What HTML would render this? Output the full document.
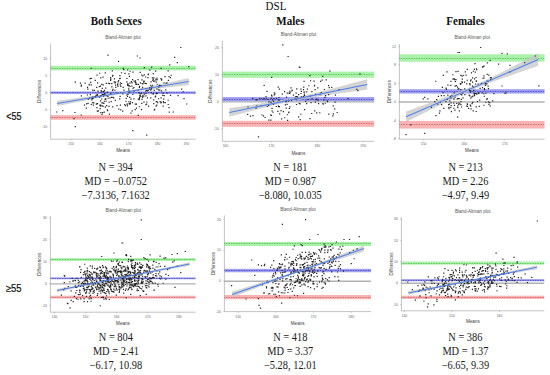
<!DOCTYPE html>
<html><head><meta charset="utf-8"><style>
html,body{margin:0;padding:0;background:#fff;width:550px;height:375px;overflow:hidden}
svg{display:block}
.h0{font-family:"Liberation Serif",serif;font-size:11.6px;fill:#111}
.h1{font-family:"Liberation Serif",serif;font-size:11.5px;font-weight:bold;fill:#111}
.st{font-family:"Liberation Serif",serif;font-size:11.5px;fill:#1a1a1a}
.rl{font-family:"Liberation Sans",sans-serif;font-size:10.6px;fill:#111;stroke:#111;stroke-width:0.22px}
.tk{font-family:"Liberation Sans",sans-serif;font-size:3.4px;fill:#666}
.tt{font-family:"Liberation Sans",sans-serif;font-size:4.5px;fill:#555}
.al{font-family:"Liberation Sans",sans-serif;font-size:4.6px;fill:#3a3a3a}
</style></head><body>
<svg width="550" height="375" viewBox="0 0 550 375">
<text x="276" y="10.4" class="h0" text-anchor="middle" textLength="20.78" lengthAdjust="spacingAndGlyphs">DSL</text>
<text x="116.2" y="24.6" class="h1" text-anchor="middle" textLength="51.03" lengthAdjust="spacingAndGlyphs">Both Sexes</text>
<text x="290.4" y="24.6" class="h1" text-anchor="middle" textLength="28.1" lengthAdjust="spacingAndGlyphs">Males</text>
<text x="465.6" y="24.6" class="h1" text-anchor="middle" textLength="38.48" lengthAdjust="spacingAndGlyphs">Females</text>
<text x="6.2" y="119.6" class="rl" textLength="15.2" lengthAdjust="spacingAndGlyphs">&lt;55</text>
<text x="5.9" y="291.7" class="rl" textLength="15.6" lengthAdjust="spacingAndGlyphs">≥55</text>
<rect x="50.6" y="65.77" width="145.2" height="4.6" fill="#aaf2aa"/>
<line x1="50.6" y1="68.5" x2="195.8" y2="68.5" stroke="#48b448" stroke-width="0.9" stroke-dasharray="0.8 0.85"/>
<rect x="50.6" y="115.14" width="145.2" height="4.6" fill="#f8b4b4"/>
<line x1="50.6" y1="117.5" x2="195.8" y2="117.5" stroke="#c85454" stroke-width="0.9" stroke-dasharray="0.8 0.85"/>
<rect x="50.6" y="91.46" width="145.2" height="2.6" fill="#a0a0f0"/>
<line x1="50.6" y1="92.5" x2="195.8" y2="92.5" stroke="#4242c6" stroke-width="1" stroke-dasharray="0.8 0.85"/>
<polygon points="57.1,100.7 62.59,99.98 68.08,99.27 73.56,98.54 79.05,97.82 84.54,97.09 90.03,96.35 95.51,95.6 101,94.83 106.49,94.04 111.98,93.23 117.46,92.39 122.95,91.5 128.44,90.56 133.93,89.55 139.41,88.49 144.9,87.39 150.39,86.28 155.88,85.14 161.36,84 166.85,82.85 172.34,81.69 177.83,80.53 183.31,79.37 188.8,78.2 188.8,85 183.31,85.65 177.83,86.3 172.34,86.96 166.85,87.62 161.36,88.28 155.88,88.96 150.39,89.64 144.9,90.34 139.41,91.06 133.93,91.82 128.44,92.63 122.95,93.5 117.46,94.43 111.98,95.4 106.49,96.41 101,97.44 95.51,98.49 90.03,99.55 84.54,100.63 79.05,101.71 73.56,102.81 68.08,103.9 62.59,105 57.1,106.1" fill="#c8c8c8" fill-opacity="0.78"/>
<path d="M107.4 54.6h1.2v1.2h-1.2zM117.9 60.7h1.2v1.2h-1.2zM73.4 118.1h1.2v1.2h-1.2zM74.7 126.1h1.2v1.2h-1.2zM56.1 111.4h1.2v1.2h-1.2zM62.2 110.1h1.2v1.2h-1.2zM180.2 46.9h1.2v1.2h-1.2zM174.1 56.7h1.2v1.2h-1.2zM176.7 62.1h1.2v1.2h-1.2zM136.7 55.4h1.2v1.2h-1.2zM139.4 57.4h1.2v1.2h-1.2zM188.2 66.1h1.2v1.2h-1.2zM183.4 98.1h1.2v1.2h-1.2zM186.1 103.4h1.2v1.2h-1.2zM172.7 111.4h1.2v1.2h-1.2zM132.2 130.1h1.2v1.2h-1.2zM146.1 134.6h1.2v1.2h-1.2zM96.98 94.5h1.2v1.2h-1.2zM89.34 97.34h1.2v1.2h-1.2zM83.93 104.55h1.2v1.2h-1.2zM143.19 95.52h1.2v1.2h-1.2zM182.63 91.17h1.2v1.2h-1.2zM91.86 98.06h1.2v1.2h-1.2zM131.9 102.04h1.2v1.2h-1.2zM100.08 104.62h1.2v1.2h-1.2zM119.08 78.03h1.2v1.2h-1.2zM120.23 85.81h1.2v1.2h-1.2zM168.39 75.94h1.2v1.2h-1.2zM133.36 80.39h1.2v1.2h-1.2zM152.22 79.79h1.2v1.2h-1.2zM129.9 101.22h1.2v1.2h-1.2zM88.65 84.37h1.2v1.2h-1.2zM102.43 105.78h1.2v1.2h-1.2zM101.14 83.76h1.2v1.2h-1.2zM96.92 102.95h1.2v1.2h-1.2zM137.78 83.68h1.2v1.2h-1.2zM111.68 70.24h1.2v1.2h-1.2zM100.77 91.28h1.2v1.2h-1.2zM113.15 97.19h1.2v1.2h-1.2zM159.29 89.61h1.2v1.2h-1.2zM98.71 85.95h1.2v1.2h-1.2zM115.25 86.85h1.2v1.2h-1.2zM92.55 97.63h1.2v1.2h-1.2zM87.91 98.13h1.2v1.2h-1.2zM153.12 99.31h1.2v1.2h-1.2zM123.21 69.11h1.2v1.2h-1.2zM126.95 95.9h1.2v1.2h-1.2zM152.64 73.07h1.2v1.2h-1.2zM96.65 93.67h1.2v1.2h-1.2zM157.15 102.17h1.2v1.2h-1.2zM100.55 89.9h1.2v1.2h-1.2zM110.29 92.98h1.2v1.2h-1.2zM150.89 91.99h1.2v1.2h-1.2zM93.23 102.25h1.2v1.2h-1.2zM149.29 69.53h1.2v1.2h-1.2zM114.69 99.68h1.2v1.2h-1.2zM93.73 89.7h1.2v1.2h-1.2zM138.8 86.82h1.2v1.2h-1.2zM137.77 98.59h1.2v1.2h-1.2zM143.71 67.07h1.2v1.2h-1.2zM126.87 105.19h1.2v1.2h-1.2zM106.94 110.01h1.2v1.2h-1.2zM161.04 90.27h1.2v1.2h-1.2zM95.67 94.71h1.2v1.2h-1.2zM74.71 81.6h1.2v1.2h-1.2zM105.15 87.46h1.2v1.2h-1.2zM128.12 89.34h1.2v1.2h-1.2zM137.5 79.01h1.2v1.2h-1.2zM127.35 93.73h1.2v1.2h-1.2zM87.73 98.67h1.2v1.2h-1.2zM127.21 84.92h1.2v1.2h-1.2zM90.7 103.74h1.2v1.2h-1.2zM117.54 81.22h1.2v1.2h-1.2zM127.96 85.12h1.2v1.2h-1.2zM114.98 84.44h1.2v1.2h-1.2zM160.52 67.76h1.2v1.2h-1.2zM101.69 105.16h1.2v1.2h-1.2zM87.24 88.46h1.2v1.2h-1.2zM141.35 79.31h1.2v1.2h-1.2zM141.6 82.99h1.2v1.2h-1.2zM166.43 92.62h1.2v1.2h-1.2zM114.88 81.46h1.2v1.2h-1.2zM129.2 96.83h1.2v1.2h-1.2zM142.27 75.32h1.2v1.2h-1.2zM146 103.43h1.2v1.2h-1.2zM111.9 75.56h1.2v1.2h-1.2zM114.46 82.31h1.2v1.2h-1.2zM101.65 94.05h1.2v1.2h-1.2zM153.78 109.31h1.2v1.2h-1.2zM95.74 103.62h1.2v1.2h-1.2zM159.39 85.41h1.2v1.2h-1.2zM95.99 103.37h1.2v1.2h-1.2zM110.78 96.73h1.2v1.2h-1.2zM118.17 108.54h1.2v1.2h-1.2zM132.41 71.61h1.2v1.2h-1.2zM145.07 76.39h1.2v1.2h-1.2zM120.23 109.22h1.2v1.2h-1.2zM138.46 99.15h1.2v1.2h-1.2zM105.17 98.78h1.2v1.2h-1.2zM99.35 95.82h1.2v1.2h-1.2zM103.82 100.64h1.2v1.2h-1.2zM122.2 93.25h1.2v1.2h-1.2zM160.84 101.65h1.2v1.2h-1.2zM120.07 92.11h1.2v1.2h-1.2zM112.18 106.18h1.2v1.2h-1.2zM111.26 86.18h1.2v1.2h-1.2zM135.91 103.45h1.2v1.2h-1.2zM169.79 77.07h1.2v1.2h-1.2zM158.79 84.63h1.2v1.2h-1.2zM90.62 84.26h1.2v1.2h-1.2zM141.28 88.78h1.2v1.2h-1.2zM107.57 97.65h1.2v1.2h-1.2zM144.98 87.89h1.2v1.2h-1.2zM135.39 82.2h1.2v1.2h-1.2zM127.58 84.84h1.2v1.2h-1.2zM91.33 97.76h1.2v1.2h-1.2zM157.97 89.32h1.2v1.2h-1.2zM140.95 109h1.2v1.2h-1.2zM106.24 94.94h1.2v1.2h-1.2zM90.13 81.82h1.2v1.2h-1.2zM102.97 95.44h1.2v1.2h-1.2zM129.12 103.66h1.2v1.2h-1.2zM106.69 91.69h1.2v1.2h-1.2zM130.78 81.02h1.2v1.2h-1.2zM155.37 78.53h1.2v1.2h-1.2zM95.01 96.07h1.2v1.2h-1.2zM94.69 79.72h1.2v1.2h-1.2zM147.35 77.1h1.2v1.2h-1.2zM156.37 88.43h1.2v1.2h-1.2zM105.02 98.27h1.2v1.2h-1.2zM98.93 96.44h1.2v1.2h-1.2zM128.2 87.63h1.2v1.2h-1.2zM127.42 83.42h1.2v1.2h-1.2zM165.46 82.64h1.2v1.2h-1.2zM135.17 83.67h1.2v1.2h-1.2zM92.91 96.67h1.2v1.2h-1.2zM108.84 113.52h1.2v1.2h-1.2zM104.77 106.52h1.2v1.2h-1.2zM108.41 105.73h1.2v1.2h-1.2zM159.58 101.02h1.2v1.2h-1.2zM92.15 102.04h1.2v1.2h-1.2zM138.73 98.3h1.2v1.2h-1.2zM124.11 103.97h1.2v1.2h-1.2zM167.77 79.73h1.2v1.2h-1.2zM102.87 93.89h1.2v1.2h-1.2zM168.69 111.43h1.2v1.2h-1.2zM147.7 89.79h1.2v1.2h-1.2zM127 83.15h1.2v1.2h-1.2zM128.23 101.14h1.2v1.2h-1.2zM148.96 87.12h1.2v1.2h-1.2zM121.01 82.91h1.2v1.2h-1.2zM156.21 104.61h1.2v1.2h-1.2zM135.84 107.49h1.2v1.2h-1.2zM129.38 85.89h1.2v1.2h-1.2zM96.11 86.74h1.2v1.2h-1.2zM124.4 72.8h1.2v1.2h-1.2zM117.39 85.81h1.2v1.2h-1.2zM100.21 112.11h1.2v1.2h-1.2zM105.45 100.63h1.2v1.2h-1.2zM140.98 74.39h1.2v1.2h-1.2zM151.77 77.34h1.2v1.2h-1.2zM158.02 98.13h1.2v1.2h-1.2zM142.11 94.64h1.2v1.2h-1.2zM164.67 102.04h1.2v1.2h-1.2zM164.44 76.03h1.2v1.2h-1.2zM119.29 74.94h1.2v1.2h-1.2zM85.99 103.34h1.2v1.2h-1.2zM104.41 98.65h1.2v1.2h-1.2zM181.09 88.62h1.2v1.2h-1.2zM154.09 108.74h1.2v1.2h-1.2zM119.16 98.34h1.2v1.2h-1.2zM79.82 82.49h1.2v1.2h-1.2zM101.06 98.42h1.2v1.2h-1.2zM155.07 70.43h1.2v1.2h-1.2zM106.06 104.93h1.2v1.2h-1.2zM153.25 77.24h1.2v1.2h-1.2zM90.6 77.7h1.2v1.2h-1.2zM100.15 77.24h1.2v1.2h-1.2zM149.13 88.5h1.2v1.2h-1.2zM109.99 79.71h1.2v1.2h-1.2zM102.05 112.05h1.2v1.2h-1.2zM122.71 67.87h1.2v1.2h-1.2zM126.97 103.51h1.2v1.2h-1.2zM138.58 92.31h1.2v1.2h-1.2zM139.59 93.43h1.2v1.2h-1.2zM150.91 88.23h1.2v1.2h-1.2zM102.19 102.35h1.2v1.2h-1.2zM129.47 70.63h1.2v1.2h-1.2zM107.68 82.63h1.2v1.2h-1.2zM128.58 85.02h1.2v1.2h-1.2zM112.33 74.84h1.2v1.2h-1.2zM151.98 84.66h1.2v1.2h-1.2zM150.51 86.87h1.2v1.2h-1.2zM101.42 102.22h1.2v1.2h-1.2zM131.56 110.28h1.2v1.2h-1.2zM142.04 96.82h1.2v1.2h-1.2zM132.2 93.9h1.2v1.2h-1.2zM139.86 82.32h1.2v1.2h-1.2zM103.73 89.85h1.2v1.2h-1.2zM104.67 72.25h1.2v1.2h-1.2zM101.42 113.73h1.2v1.2h-1.2zM80.74 95.22h1.2v1.2h-1.2zM123.36 89.51h1.2v1.2h-1.2zM165.21 89.24h1.2v1.2h-1.2zM96.44 74.6h1.2v1.2h-1.2zM130.27 112.51h1.2v1.2h-1.2zM167.57 103.91h1.2v1.2h-1.2zM80.57 85.5h1.2v1.2h-1.2zM99.95 100.37h1.2v1.2h-1.2zM153.66 89.75h1.2v1.2h-1.2zM119.82 82.24h1.2v1.2h-1.2zM80.63 114.41h1.2v1.2h-1.2zM89.76 93.93h1.2v1.2h-1.2zM114.34 89.64h1.2v1.2h-1.2zM128.97 90.87h1.2v1.2h-1.2zM148.01 105.43h1.2v1.2h-1.2zM99.05 104.66h1.2v1.2h-1.2zM134.67 103.54h1.2v1.2h-1.2zM146.01 89.83h1.2v1.2h-1.2zM169.1 64.24h1.2v1.2h-1.2zM156.53 77.41h1.2v1.2h-1.2zM143.05 81.64h1.2v1.2h-1.2zM152.64 78.87h1.2v1.2h-1.2zM155.69 93.08h1.2v1.2h-1.2zM160.36 85.01h1.2v1.2h-1.2zM90.67 77.63h1.2v1.2h-1.2zM162.19 94.73h1.2v1.2h-1.2zM129.29 82.56h1.2v1.2h-1.2zM170.59 74.67h1.2v1.2h-1.2zM147.89 73.58h1.2v1.2h-1.2zM143.54 80.8h1.2v1.2h-1.2zM151.08 66.56h1.2v1.2h-1.2zM138.77 106.17h1.2v1.2h-1.2zM128.84 75.74h1.2v1.2h-1.2zM103.64 111.45h1.2v1.2h-1.2zM92.2 89.44h1.2v1.2h-1.2zM97.86 110.23h1.2v1.2h-1.2zM128.76 102.7h1.2v1.2h-1.2zM156.52 101.35h1.2v1.2h-1.2zM132.48 87.7h1.2v1.2h-1.2zM160.11 78.15h1.2v1.2h-1.2zM124.91 105.02h1.2v1.2h-1.2zM74.31 111.9h1.2v1.2h-1.2zM126.26 81.25h1.2v1.2h-1.2zM110.28 78.51h1.2v1.2h-1.2zM154.1 80.42h1.2v1.2h-1.2zM141.15 102.83h1.2v1.2h-1.2zM84.51 82.47h1.2v1.2h-1.2zM141.97 86.81h1.2v1.2h-1.2zM126.99 69.41h1.2v1.2h-1.2zM160.49 97.21h1.2v1.2h-1.2zM161.04 79.47h1.2v1.2h-1.2zM112.08 89.81h1.2v1.2h-1.2zM153.06 80.86h1.2v1.2h-1.2zM119.78 104.49h1.2v1.2h-1.2zM146.83 97.33h1.2v1.2h-1.2zM99.57 108.06h1.2v1.2h-1.2zM86.76 94.42h1.2v1.2h-1.2zM86.94 86.68h1.2v1.2h-1.2zM167.54 70.18h1.2v1.2h-1.2zM143.38 101.46h1.2v1.2h-1.2zM156.58 83.63h1.2v1.2h-1.2zM111.22 83.07h1.2v1.2h-1.2zM110.56 100.96h1.2v1.2h-1.2zM139.61 71.75h1.2v1.2h-1.2zM152.71 92.97h1.2v1.2h-1.2zM142.42 83.21h1.2v1.2h-1.2zM163.6 95.06h1.2v1.2h-1.2zM126.33 94.55h1.2v1.2h-1.2zM151.3 86.14h1.2v1.2h-1.2zM138.96 85.82h1.2v1.2h-1.2zM145.44 92.92h1.2v1.2h-1.2zM108.57 101.65h1.2v1.2h-1.2zM89.56 77.99h1.2v1.2h-1.2zM119.51 95.76h1.2v1.2h-1.2zM146.25 101.4h1.2v1.2h-1.2zM103.33 90.94h1.2v1.2h-1.2zM122.2 110.55h1.2v1.2h-1.2zM156.73 92.77h1.2v1.2h-1.2zM155.05 95.51h1.2v1.2h-1.2zM130.42 98.53h1.2v1.2h-1.2zM126.32 77.92h1.2v1.2h-1.2zM126.97 84.44h1.2v1.2h-1.2zM100.11 105.66h1.2v1.2h-1.2zM80.82 84.55h1.2v1.2h-1.2zM133.32 86.92h1.2v1.2h-1.2zM150.14 89.53h1.2v1.2h-1.2zM120.93 72.15h1.2v1.2h-1.2zM147 90.29h1.2v1.2h-1.2zM109.32 97.4h1.2v1.2h-1.2zM139.82 95.48h1.2v1.2h-1.2zM128.29 73.22h1.2v1.2h-1.2zM139.18 95.16h1.2v1.2h-1.2zM163.13 98.55h1.2v1.2h-1.2zM158.19 86.46h1.2v1.2h-1.2zM134.95 80.13h1.2v1.2h-1.2zM122.59 86.68h1.2v1.2h-1.2zM158.69 84.74h1.2v1.2h-1.2zM107.31 95.73h1.2v1.2h-1.2zM138.94 97.11h1.2v1.2h-1.2zM156.79 79.13h1.2v1.2h-1.2zM109.99 77.01h1.2v1.2h-1.2zM119.68 77.65h1.2v1.2h-1.2zM141.37 98.78h1.2v1.2h-1.2zM137.47 89.65h1.2v1.2h-1.2zM104.38 93.79h1.2v1.2h-1.2zM85.73 107.59h1.2v1.2h-1.2zM116.93 84.34h1.2v1.2h-1.2zM161.1 78.51h1.2v1.2h-1.2zM131.46 82.27h1.2v1.2h-1.2zM101.67 87.79h1.2v1.2h-1.2zM97 82.37h1.2v1.2h-1.2zM106.84 109.2h1.2v1.2h-1.2zM136.19 83.78h1.2v1.2h-1.2zM155.65 81.49h1.2v1.2h-1.2zM126.5 103.46h1.2v1.2h-1.2zM95.38 95.53h1.2v1.2h-1.2zM118.08 79.97h1.2v1.2h-1.2zM145.67 83.12h1.2v1.2h-1.2zM103.25 102.73h1.2v1.2h-1.2zM144.5 82.69h1.2v1.2h-1.2zM88.65 83.75h1.2v1.2h-1.2zM166.39 82.24h1.2v1.2h-1.2zM150.23 84.86h1.2v1.2h-1.2zM97.49 90.6h1.2v1.2h-1.2zM112.28 96.78h1.2v1.2h-1.2zM134.74 81.94h1.2v1.2h-1.2zM109.12 83.01h1.2v1.2h-1.2zM87.46 102.74h1.2v1.2h-1.2zM113.87 78.3h1.2v1.2h-1.2zM141.52 95.89h1.2v1.2h-1.2zM133.42 90.47h1.2v1.2h-1.2zM129.74 102.97h1.2v1.2h-1.2zM91.23 99.24h1.2v1.2h-1.2zM153.18 103.01h1.2v1.2h-1.2zM117.2 83.37h1.2v1.2h-1.2zM163.21 102.07h1.2v1.2h-1.2zM139.03 96.85h1.2v1.2h-1.2zM105.63 82.85h1.2v1.2h-1.2zM125.64 97.71h1.2v1.2h-1.2zM96.31 107.09h1.2v1.2h-1.2zM177.54 94.94h1.2v1.2h-1.2zM143.77 93.52h1.2v1.2h-1.2zM145.07 90.61h1.2v1.2h-1.2zM134.51 80.93h1.2v1.2h-1.2zM162.54 105.56h1.2v1.2h-1.2zM155.44 79.34h1.2v1.2h-1.2zM152.51 93.65h1.2v1.2h-1.2zM119.66 84.34h1.2v1.2h-1.2zM133.3 98.27h1.2v1.2h-1.2zM162.79 101.01h1.2v1.2h-1.2zM160.35 102.24h1.2v1.2h-1.2zM167.57 99.67h1.2v1.2h-1.2zM150.43 81.28h1.2v1.2h-1.2zM150.22 97.31h1.2v1.2h-1.2zM137.65 114.71h1.2v1.2h-1.2zM155.67 100.97h1.2v1.2h-1.2zM145.17 104.16h1.2v1.2h-1.2zM131.32 85.5h1.2v1.2h-1.2zM132.04 79.05h1.2v1.2h-1.2zM102.42 76.49h1.2v1.2h-1.2zM96.73 110.6h1.2v1.2h-1.2zM162.63 92.71h1.2v1.2h-1.2zM102.61 84.34h1.2v1.2h-1.2zM125.36 100.63h1.2v1.2h-1.2zM163.4 82.26h1.2v1.2h-1.2zM94.37 96.24h1.2v1.2h-1.2zM100.53 95h1.2v1.2h-1.2zM108.17 82.67h1.2v1.2h-1.2zM155.49 105.53h1.2v1.2h-1.2zM102.27 91.17h1.2v1.2h-1.2zM134.58 108.93h1.2v1.2h-1.2zM128.44 92.07h1.2v1.2h-1.2zM145.33 95.35h1.2v1.2h-1.2zM116.41 104.97h1.2v1.2h-1.2zM99.17 72.66h1.2v1.2h-1.2zM92.12 96.56h1.2v1.2h-1.2zM143.23 80.57h1.2v1.2h-1.2zM117.34 92.7h1.2v1.2h-1.2zM92.7 104.48h1.2v1.2h-1.2zM99.92 85.54h1.2v1.2h-1.2zM143.67 74.36h1.2v1.2h-1.2zM168.39 107.01h1.2v1.2h-1.2zM104 92.99h1.2v1.2h-1.2zM116.16 92.74h1.2v1.2h-1.2zM112.43 88.65h1.2v1.2h-1.2zM154.69 96.27h1.2v1.2h-1.2zM151.07 87.39h1.2v1.2h-1.2zM169.91 94.72h1.2v1.2h-1.2zM140.85 92.72h1.2v1.2h-1.2zM90.67 67.66h1.2v1.2h-1.2zM147.57 74.1h1.2v1.2h-1.2zM139.56 95.11h1.2v1.2h-1.2zM113.57 81.27h1.2v1.2h-1.2z" fill="#222"/>
<line x1="57.1" y1="103.4" x2="188.8" y2="81.6" stroke="#5080ea" stroke-width="1.05"/>
<path d="M50.6 43.5V139.2H195.8" fill="none" stroke="#9a9a9a" stroke-width="0.6"/>
<line x1="49.4" y1="58.4" x2="50.6" y2="58.4" stroke="#9a9a9a" stroke-width="0.5"/>
<text x="47.1" y="59.7" class="tk" text-anchor="end">10</text>
<line x1="49.4" y1="75.45" x2="50.6" y2="75.45" stroke="#9a9a9a" stroke-width="0.5"/>
<text x="47.1" y="76.75" class="tk" text-anchor="end">5</text>
<line x1="49.4" y1="92.5" x2="50.6" y2="92.5" stroke="#9a9a9a" stroke-width="0.5"/>
<text x="47.1" y="93.8" class="tk" text-anchor="end">0</text>
<line x1="49.4" y1="109.55" x2="50.6" y2="109.55" stroke="#9a9a9a" stroke-width="0.5"/>
<text x="47.1" y="110.85" class="tk" text-anchor="end">-5</text>
<line x1="49.4" y1="126.6" x2="50.6" y2="126.6" stroke="#9a9a9a" stroke-width="0.5"/>
<text x="47.1" y="127.9" class="tk" text-anchor="end">-10</text>
<line x1="71.1" y1="139.2" x2="71.1" y2="140.4" stroke="#9a9a9a" stroke-width="0.5"/>
<text x="71.1" y="145.3" class="tk" text-anchor="middle">150</text>
<line x1="99.9" y1="139.2" x2="99.9" y2="140.4" stroke="#9a9a9a" stroke-width="0.5"/>
<text x="99.9" y="145.3" class="tk" text-anchor="middle">160</text>
<line x1="128.7" y1="139.2" x2="128.7" y2="140.4" stroke="#9a9a9a" stroke-width="0.5"/>
<text x="128.7" y="145.3" class="tk" text-anchor="middle">170</text>
<line x1="157.5" y1="139.2" x2="157.5" y2="140.4" stroke="#9a9a9a" stroke-width="0.5"/>
<text x="157.5" y="145.3" class="tk" text-anchor="middle">180</text>
<line x1="186.3" y1="139.2" x2="186.3" y2="140.4" stroke="#9a9a9a" stroke-width="0.5"/>
<text x="186.3" y="145.3" class="tk" text-anchor="middle">190</text>
<text x="123" y="39" class="tt" text-anchor="middle">Bland-Altman plot</text>
<text x="123.2" y="152" class="al" text-anchor="middle">Means</text>
<text transform="translate(40.7 91.35) rotate(-90)" class="al" text-anchor="middle">Differences</text>
<rect x="222.4" y="71.61" width="151.8" height="6.2" fill="#aaf2aa"/>
<line x1="222.4" y1="74.5" x2="374.2" y2="74.5" stroke="#48b448" stroke-width="0.9" stroke-dasharray="0.8 0.85"/>
<rect x="222.4" y="120.8" width="151.8" height="6" fill="#f8b4b4"/>
<line x1="222.4" y1="123.5" x2="374.2" y2="123.5" stroke="#c85454" stroke-width="0.9" stroke-dasharray="0.8 0.85"/>
<rect x="222.4" y="97.03" width="151.8" height="4.4" fill="#a0a0f0"/>
<line x1="222.4" y1="99.5" x2="374.2" y2="99.5" stroke="#4242c6" stroke-width="1" stroke-dasharray="0.8 0.85"/>
<line x1="222.4" y1="101.9" x2="374.2" y2="101.9" stroke="#b2b2b2" stroke-width="1.4"/>
<polygon points="229.3,108.2 235.05,107.33 240.79,106.46 246.54,105.58 252.28,104.69 258.03,103.79 263.77,102.88 269.52,101.96 275.27,101.01 281.01,100.03 286.76,99.01 292.5,97.93 298.25,96.8 304,95.58 309.74,94.27 315.49,92.88 321.23,91.44 326.98,89.96 332.73,88.45 338.47,86.93 344.22,85.4 349.96,83.86 355.71,82.31 361.45,80.76 367.2,79.2 367.2,89.6 361.45,90.38 355.71,91.16 349.96,91.94 344.22,92.73 338.47,93.53 332.73,94.35 326.98,95.18 321.23,96.03 315.49,96.92 309.74,97.87 304,98.89 298.25,100 292.5,101.2 286.76,102.46 281.01,103.77 275.27,105.12 269.52,106.51 263.77,107.92 258.03,109.34 252.28,110.78 246.54,112.22 240.79,113.68 235.05,115.14 229.3,116.6" fill="#c8c8c8" fill-opacity="0.78"/>
<path d="M282.2 44.2h1.2v1.2h-1.2zM287.5 55.9h1.2v1.2h-1.2zM257.9 136.2h1.2v1.2h-1.2zM298.7 66.6h1.2v1.2h-1.2zM247.4 106.4h1.2v1.2h-1.2zM299.4 66.9h1.2v1.2h-1.2zM329.3 70.6h1.2v1.2h-1.2zM359.4 73.3h1.2v1.2h-1.2zM356.2 88.7h1.2v1.2h-1.2zM357.3 90.1h1.2v1.2h-1.2zM347.4 98.1h1.2v1.2h-1.2zM334.1 108.2h1.2v1.2h-1.2zM328.2 113.5h1.2v1.2h-1.2zM252.1 97.83h1.2v1.2h-1.2zM304.09 91.41h1.2v1.2h-1.2zM311.3 90.97h1.2v1.2h-1.2zM294.54 98.19h1.2v1.2h-1.2zM298.06 116.35h1.2v1.2h-1.2zM288.74 92.72h1.2v1.2h-1.2zM327.99 85.07h1.2v1.2h-1.2zM326.98 101.11h1.2v1.2h-1.2zM303.83 93.41h1.2v1.2h-1.2zM277.3 110.74h1.2v1.2h-1.2zM284.93 100.96h1.2v1.2h-1.2zM285.94 100.7h1.2v1.2h-1.2zM323.31 99.55h1.2v1.2h-1.2zM286.49 103.82h1.2v1.2h-1.2zM315.09 93.85h1.2v1.2h-1.2zM323.76 88.91h1.2v1.2h-1.2zM278.43 96.88h1.2v1.2h-1.2zM274.32 93.21h1.2v1.2h-1.2zM249.85 115.61h1.2v1.2h-1.2zM325.58 79.28h1.2v1.2h-1.2zM270.97 94.61h1.2v1.2h-1.2zM286.64 92.56h1.2v1.2h-1.2zM305.09 100.86h1.2v1.2h-1.2zM322.12 75.86h1.2v1.2h-1.2zM263.47 97.64h1.2v1.2h-1.2zM277.66 86.51h1.2v1.2h-1.2zM283.96 91.05h1.2v1.2h-1.2zM336.61 111.88h1.2v1.2h-1.2zM331.14 86.79h1.2v1.2h-1.2zM311.45 98.21h1.2v1.2h-1.2zM296.16 88.32h1.2v1.2h-1.2zM288.06 99.81h1.2v1.2h-1.2zM332.26 115.27h1.2v1.2h-1.2zM332.59 105.3h1.2v1.2h-1.2zM303.46 80.78h1.2v1.2h-1.2zM310.42 101.94h1.2v1.2h-1.2zM273.67 92.17h1.2v1.2h-1.2zM277.98 106.07h1.2v1.2h-1.2zM319.39 94.11h1.2v1.2h-1.2zM300.4 92.88h1.2v1.2h-1.2zM273.28 97.92h1.2v1.2h-1.2zM247.06 113.87h1.2v1.2h-1.2zM295.92 103.89h1.2v1.2h-1.2zM278.83 105.95h1.2v1.2h-1.2zM281.76 93.55h1.2v1.2h-1.2zM285.25 101.16h1.2v1.2h-1.2zM321.57 79.5h1.2v1.2h-1.2zM288.01 100.45h1.2v1.2h-1.2zM289.28 90.78h1.2v1.2h-1.2zM255.45 99h1.2v1.2h-1.2zM271.07 76.78h1.2v1.2h-1.2zM265.42 95.93h1.2v1.2h-1.2zM314.18 110.31h1.2v1.2h-1.2zM311.16 112.89h1.2v1.2h-1.2zM309.4 118.07h1.2v1.2h-1.2zM338.48 89.02h1.2v1.2h-1.2zM307.54 98.99h1.2v1.2h-1.2zM324.71 102.67h1.2v1.2h-1.2zM275.88 97.79h1.2v1.2h-1.2zM277.77 105.39h1.2v1.2h-1.2zM322.28 102.88h1.2v1.2h-1.2zM270.55 97.72h1.2v1.2h-1.2zM320.03 80.78h1.2v1.2h-1.2zM332.74 113.37h1.2v1.2h-1.2zM290.92 99.99h1.2v1.2h-1.2zM276.81 101.63h1.2v1.2h-1.2zM309.83 95.46h1.2v1.2h-1.2zM300.77 90.8h1.2v1.2h-1.2zM298.67 102.7h1.2v1.2h-1.2zM259.16 98.02h1.2v1.2h-1.2zM319.17 112.14h1.2v1.2h-1.2zM299.53 103.34h1.2v1.2h-1.2zM334.5 101.57h1.2v1.2h-1.2zM316.06 112.27h1.2v1.2h-1.2zM314.79 101.46h1.2v1.2h-1.2zM268.01 104.73h1.2v1.2h-1.2zM262.91 115.33h1.2v1.2h-1.2zM328.08 93.97h1.2v1.2h-1.2zM309.96 80.13h1.2v1.2h-1.2zM288.33 111.44h1.2v1.2h-1.2zM260.5 105.16h1.2v1.2h-1.2zM271.49 110.22h1.2v1.2h-1.2zM292.83 94.51h1.2v1.2h-1.2zM271.91 99.22h1.2v1.2h-1.2zM304.01 109h1.2v1.2h-1.2zM261.36 114.42h1.2v1.2h-1.2zM288.36 92.41h1.2v1.2h-1.2zM315.5 99.01h1.2v1.2h-1.2zM306.76 88.46h1.2v1.2h-1.2zM314.54 88.93h1.2v1.2h-1.2zM280.44 110.04h1.2v1.2h-1.2zM326.73 100.13h1.2v1.2h-1.2zM302.94 96h1.2v1.2h-1.2zM285.65 107.57h1.2v1.2h-1.2zM303.77 94.72h1.2v1.2h-1.2zM267.58 98.63h1.2v1.2h-1.2zM278.72 88.51h1.2v1.2h-1.2zM289.58 92.37h1.2v1.2h-1.2zM272.4 111.66h1.2v1.2h-1.2zM271.37 95.53h1.2v1.2h-1.2zM303.39 91.47h1.2v1.2h-1.2zM263.55 84.81h1.2v1.2h-1.2zM300.29 113.63h1.2v1.2h-1.2zM282.74 110.95h1.2v1.2h-1.2zM270.38 101.7h1.2v1.2h-1.2zM288.73 107.91h1.2v1.2h-1.2zM271.42 107.72h1.2v1.2h-1.2zM255.47 107.44h1.2v1.2h-1.2zM303.15 86.44h1.2v1.2h-1.2zM278.14 98.9h1.2v1.2h-1.2zM313.44 80.54h1.2v1.2h-1.2zM291.64 89.5h1.2v1.2h-1.2zM261.3 98.16h1.2v1.2h-1.2zM308.24 85.13h1.2v1.2h-1.2zM299.57 119.02h1.2v1.2h-1.2zM268.32 101.2h1.2v1.2h-1.2zM300.34 88.49h1.2v1.2h-1.2zM309.27 74.97h1.2v1.2h-1.2zM306.14 91.32h1.2v1.2h-1.2zM284.08 117.16h1.2v1.2h-1.2zM265.69 98.31h1.2v1.2h-1.2zM294.86 96.14h1.2v1.2h-1.2zM279.1 113.19h1.2v1.2h-1.2zM263.38 98.38h1.2v1.2h-1.2zM268.22 119.56h1.2v1.2h-1.2zM270.79 114.72h1.2v1.2h-1.2zM290.41 87.23h1.2v1.2h-1.2zM324.37 96.86h1.2v1.2h-1.2zM287.04 119.81h1.2v1.2h-1.2zM275.73 105.92h1.2v1.2h-1.2zM270.28 119.52h1.2v1.2h-1.2zM300.78 96.13h1.2v1.2h-1.2zM266.69 105.89h1.2v1.2h-1.2zM328.67 87.04h1.2v1.2h-1.2zM252.37 115.02h1.2v1.2h-1.2zM298.03 94.02h1.2v1.2h-1.2zM291.23 90.41h1.2v1.2h-1.2zM306.05 102.93h1.2v1.2h-1.2zM273.72 94.27h1.2v1.2h-1.2zM284.81 104.28h1.2v1.2h-1.2zM288.14 111.95h1.2v1.2h-1.2zM264.53 116.89h1.2v1.2h-1.2zM316.26 98.57h1.2v1.2h-1.2zM285.93 96.59h1.2v1.2h-1.2zM270.05 114.4h1.2v1.2h-1.2zM273 100.84h1.2v1.2h-1.2zM295.79 95.94h1.2v1.2h-1.2zM256.31 105.41h1.2v1.2h-1.2zM320.6 91.9h1.2v1.2h-1.2zM317.47 99.86h1.2v1.2h-1.2zM278.37 99.8h1.2v1.2h-1.2zM317.2 87.34h1.2v1.2h-1.2zM324.99 95.1h1.2v1.2h-1.2zM317.97 103.06h1.2v1.2h-1.2zM313.91 85.33h1.2v1.2h-1.2zM289.25 106.32h1.2v1.2h-1.2zM286.71 114.13h1.2v1.2h-1.2zM334.82 94.44h1.2v1.2h-1.2zM266.45 90.86h1.2v1.2h-1.2zM313.91 84.7h1.2v1.2h-1.2zM296.92 96.34h1.2v1.2h-1.2zM272.77 103.63h1.2v1.2h-1.2zM322.62 103.56h1.2v1.2h-1.2zM295.88 99.17h1.2v1.2h-1.2zM281.03 118.26h1.2v1.2h-1.2zM302.93 89.12h1.2v1.2h-1.2zM295.56 92.54h1.2v1.2h-1.2zM256.27 99.28h1.2v1.2h-1.2z" fill="#222"/>
<line x1="229.3" y1="112.4" x2="367.2" y2="84.4" stroke="#5080ea" stroke-width="1.05"/>
<path d="M222.4 40.8V141.3H374.2" fill="none" stroke="#9a9a9a" stroke-width="0.6"/>
<line x1="221.2" y1="47.7" x2="222.4" y2="47.7" stroke="#9a9a9a" stroke-width="0.5"/>
<text x="218.9" y="49" class="tk" text-anchor="end">20</text>
<line x1="221.2" y1="74.8" x2="222.4" y2="74.8" stroke="#9a9a9a" stroke-width="0.5"/>
<text x="218.9" y="76.1" class="tk" text-anchor="end">10</text>
<line x1="221.2" y1="101.9" x2="222.4" y2="101.9" stroke="#9a9a9a" stroke-width="0.5"/>
<text x="218.9" y="103.2" class="tk" text-anchor="end">0</text>
<line x1="221.2" y1="129" x2="222.4" y2="129" stroke="#9a9a9a" stroke-width="0.5"/>
<text x="218.9" y="130.3" class="tk" text-anchor="end">-10</text>
<line x1="225.5" y1="141.3" x2="225.5" y2="142.5" stroke="#9a9a9a" stroke-width="0.5"/>
<text x="225.5" y="147.4" class="tk" text-anchor="middle">160</text>
<line x1="271.4" y1="141.3" x2="271.4" y2="142.5" stroke="#9a9a9a" stroke-width="0.5"/>
<text x="271.4" y="147.4" class="tk" text-anchor="middle">170</text>
<line x1="317.3" y1="141.3" x2="317.3" y2="142.5" stroke="#9a9a9a" stroke-width="0.5"/>
<text x="317.3" y="147.4" class="tk" text-anchor="middle">180</text>
<line x1="363.2" y1="141.3" x2="363.2" y2="142.5" stroke="#9a9a9a" stroke-width="0.5"/>
<text x="363.2" y="147.4" class="tk" text-anchor="middle">190</text>
<text x="298.5" y="36.1" class="tt" text-anchor="middle">Bland-Altman plot</text>
<text x="298.3" y="154.7" class="al" text-anchor="middle">Means</text>
<text transform="translate(212.2 91.05) rotate(-90)" class="al" text-anchor="middle">Differences</text>
<rect x="399.4" y="54.3" width="145.2" height="7.4" fill="#aaf2aa"/>
<line x1="399.4" y1="58.5" x2="544.6" y2="58.5" stroke="#48b448" stroke-width="0.9" stroke-dasharray="0.8 0.85"/>
<rect x="399.4" y="120.94" width="145.2" height="7.6" fill="#f8b4b4"/>
<line x1="399.4" y1="124.5" x2="544.6" y2="124.5" stroke="#c85454" stroke-width="0.9" stroke-dasharray="0.8 0.85"/>
<rect x="399.4" y="89.17" width="145.2" height="4.4" fill="#a0a0f0"/>
<line x1="399.4" y1="91.5" x2="544.6" y2="91.5" stroke="#4242c6" stroke-width="1" stroke-dasharray="0.8 0.85"/>
<line x1="399.4" y1="102" x2="544.6" y2="102" stroke="#b2b2b2" stroke-width="1.4"/>
<polygon points="406.1,111.4 411.6,109.41 417.11,107.41 422.61,105.41 428.12,103.4 433.62,101.38 439.12,99.35 444.63,97.3 450.13,95.22 455.64,93.1 461.14,90.93 466.65,88.68 472.15,86.35 477.65,83.9 483.16,81.34 488.66,78.68 494.17,75.96 499.67,73.2 505.18,70.41 510.68,67.59 516.18,64.77 521.69,61.94 527.19,59.1 532.7,56.25 538.2,53.4 538.2,65.8 532.7,67.71 527.19,69.62 521.69,71.54 516.18,73.46 510.68,75.4 505.18,77.34 499.67,79.31 494.17,81.31 488.66,83.34 483.16,85.45 477.65,87.64 472.15,89.95 466.65,92.38 461.14,94.89 455.64,97.48 450.13,100.12 444.63,102.79 439.12,105.5 433.62,108.22 428.12,110.96 422.61,113.71 417.11,116.47 411.6,119.23 406.1,122" fill="#c8c8c8" fill-opacity="0.78"/>
<path d="M457.4 51.9h1.2v1.2h-1.2zM458.9 51.9h1.2v1.2h-1.2zM405.4 134.1h1.2v1.2h-1.2zM424.1 132.7h1.2v1.2h-1.2zM410.2 124.2h1.2v1.2h-1.2zM424.1 96.7h1.2v1.2h-1.2zM480.1 46.9h1.2v1.2h-1.2zM501.4 52.7h1.2v1.2h-1.2zM506.7 53.3h1.2v1.2h-1.2zM509.4 64.7h1.2v1.2h-1.2zM538.2 85.3h1.2v1.2h-1.2zM534.7 55.4h1.2v1.2h-1.2zM524.1 62.1h1.2v1.2h-1.2zM505.4 92.2h1.2v1.2h-1.2zM492.1 100.2h1.2v1.2h-1.2zM509.48 71.3h1.2v1.2h-1.2zM490.8 77.26h1.2v1.2h-1.2zM477.57 83.38h1.2v1.2h-1.2zM460.4 103.94h1.2v1.2h-1.2zM473.12 89.69h1.2v1.2h-1.2zM453.18 98.54h1.2v1.2h-1.2zM458.72 110.19h1.2v1.2h-1.2zM462.41 97.19h1.2v1.2h-1.2zM470.17 97.53h1.2v1.2h-1.2zM476.92 100.91h1.2v1.2h-1.2zM471.98 81.52h1.2v1.2h-1.2zM488.23 74.43h1.2v1.2h-1.2zM460.31 83.08h1.2v1.2h-1.2zM484.01 89.12h1.2v1.2h-1.2zM472.04 77.26h1.2v1.2h-1.2zM473.4 92.49h1.2v1.2h-1.2zM475.86 80.69h1.2v1.2h-1.2zM472.62 110.31h1.2v1.2h-1.2zM488.28 103.72h1.2v1.2h-1.2zM435.33 115.03h1.2v1.2h-1.2zM457.22 107.04h1.2v1.2h-1.2zM478.69 105.78h1.2v1.2h-1.2zM483.78 88.03h1.2v1.2h-1.2zM470.03 80.4h1.2v1.2h-1.2zM481.61 92.29h1.2v1.2h-1.2zM475.55 110.88h1.2v1.2h-1.2zM477.78 92.28h1.2v1.2h-1.2zM470.49 79.2h1.2v1.2h-1.2zM461.71 78.54h1.2v1.2h-1.2zM445.84 88.69h1.2v1.2h-1.2zM469.19 95.36h1.2v1.2h-1.2zM466.65 103.31h1.2v1.2h-1.2zM454.59 96.65h1.2v1.2h-1.2zM489.55 105.21h1.2v1.2h-1.2zM487.52 85.51h1.2v1.2h-1.2zM457.43 70.68h1.2v1.2h-1.2zM457 86.46h1.2v1.2h-1.2zM462.21 92.61h1.2v1.2h-1.2zM442.73 74.8h1.2v1.2h-1.2zM460.42 93.92h1.2v1.2h-1.2zM449.2 100.32h1.2v1.2h-1.2zM458.54 98.05h1.2v1.2h-1.2zM460.36 101.07h1.2v1.2h-1.2zM457.06 105.4h1.2v1.2h-1.2zM480.82 82.85h1.2v1.2h-1.2zM430.84 106.71h1.2v1.2h-1.2zM447.34 84.44h1.2v1.2h-1.2zM464.73 71.2h1.2v1.2h-1.2zM450.46 102.37h1.2v1.2h-1.2zM485.25 101.67h1.2v1.2h-1.2zM475.4 76.88h1.2v1.2h-1.2zM458.29 102.45h1.2v1.2h-1.2zM465.92 105.39h1.2v1.2h-1.2zM448.82 103.48h1.2v1.2h-1.2zM452.36 78.51h1.2v1.2h-1.2zM470.47 108.2h1.2v1.2h-1.2zM450.22 84.77h1.2v1.2h-1.2zM460.16 89.08h1.2v1.2h-1.2zM458.21 88.05h1.2v1.2h-1.2zM474.39 63.08h1.2v1.2h-1.2zM438.89 112.5h1.2v1.2h-1.2zM458.11 104h1.2v1.2h-1.2zM471.29 96.36h1.2v1.2h-1.2zM457.51 88.43h1.2v1.2h-1.2zM483.73 95.63h1.2v1.2h-1.2zM486.58 73.72h1.2v1.2h-1.2zM478.04 92.86h1.2v1.2h-1.2zM457.38 98.07h1.2v1.2h-1.2zM441.8 86.82h1.2v1.2h-1.2zM455.39 71.05h1.2v1.2h-1.2zM453.55 92.35h1.2v1.2h-1.2zM453.26 107.63h1.2v1.2h-1.2zM472.28 95.46h1.2v1.2h-1.2zM481.93 66.57h1.2v1.2h-1.2zM443.21 107.8h1.2v1.2h-1.2zM461.56 75.53h1.2v1.2h-1.2zM475.77 68.15h1.2v1.2h-1.2zM489.16 101.96h1.2v1.2h-1.2zM504.17 92.67h1.2v1.2h-1.2zM453.22 102.62h1.2v1.2h-1.2zM482.34 77.66h1.2v1.2h-1.2zM457.03 116.48h1.2v1.2h-1.2zM450.84 111.01h1.2v1.2h-1.2zM445.36 100.98h1.2v1.2h-1.2zM445.42 87.51h1.2v1.2h-1.2zM473.66 93.71h1.2v1.2h-1.2zM482.55 66.12h1.2v1.2h-1.2zM476.26 93.45h1.2v1.2h-1.2zM437.83 95.75h1.2v1.2h-1.2zM439.78 101.67h1.2v1.2h-1.2zM489.84 77.09h1.2v1.2h-1.2zM440.77 94.96h1.2v1.2h-1.2zM478.47 92.38h1.2v1.2h-1.2zM485.58 83.4h1.2v1.2h-1.2zM462.93 74.67h1.2v1.2h-1.2zM501.43 85.4h1.2v1.2h-1.2zM460.72 98.79h1.2v1.2h-1.2zM472.75 70.65h1.2v1.2h-1.2zM471.94 85.4h1.2v1.2h-1.2zM459.15 103.14h1.2v1.2h-1.2zM469.96 91.66h1.2v1.2h-1.2zM427.23 98.29h1.2v1.2h-1.2zM464 81.51h1.2v1.2h-1.2zM469.65 104.57h1.2v1.2h-1.2zM455.76 85.07h1.2v1.2h-1.2zM435.16 80.63h1.2v1.2h-1.2zM450.36 97.48h1.2v1.2h-1.2zM464.27 94h1.2v1.2h-1.2zM456.66 98.24h1.2v1.2h-1.2zM484.68 84.71h1.2v1.2h-1.2zM449.65 95.85h1.2v1.2h-1.2zM450.27 106.91h1.2v1.2h-1.2zM453.5 78.11h1.2v1.2h-1.2zM475.65 93.01h1.2v1.2h-1.2zM470.19 90.31h1.2v1.2h-1.2zM473.95 78.21h1.2v1.2h-1.2zM452.28 74.15h1.2v1.2h-1.2zM486.27 83.23h1.2v1.2h-1.2zM446.85 98.8h1.2v1.2h-1.2zM484.8 83.03h1.2v1.2h-1.2zM468.6 94.62h1.2v1.2h-1.2zM454.78 80.9h1.2v1.2h-1.2zM475.62 80.37h1.2v1.2h-1.2zM479.12 99.48h1.2v1.2h-1.2zM483.4 75.23h1.2v1.2h-1.2zM441.01 103.99h1.2v1.2h-1.2zM466.64 68.71h1.2v1.2h-1.2zM487.41 80.75h1.2v1.2h-1.2zM487.86 87.95h1.2v1.2h-1.2zM474.56 92.9h1.2v1.2h-1.2zM466.13 83.24h1.2v1.2h-1.2zM461.2 94.34h1.2v1.2h-1.2zM459.75 82.98h1.2v1.2h-1.2zM483.33 93.16h1.2v1.2h-1.2zM456.17 102.81h1.2v1.2h-1.2zM453.48 98.18h1.2v1.2h-1.2zM472.15 101.8h1.2v1.2h-1.2zM486.58 97.96h1.2v1.2h-1.2zM459.9 83.53h1.2v1.2h-1.2zM471.5 102.96h1.2v1.2h-1.2zM454.35 109.58h1.2v1.2h-1.2zM486.56 80.53h1.2v1.2h-1.2zM483.27 104.63h1.2v1.2h-1.2zM448.39 108.01h1.2v1.2h-1.2zM454.04 79.16h1.2v1.2h-1.2zM489.55 59.69h1.2v1.2h-1.2zM437.21 103.44h1.2v1.2h-1.2zM436.11 98.97h1.2v1.2h-1.2zM450.35 80.78h1.2v1.2h-1.2zM493.37 93h1.2v1.2h-1.2zM460.93 106.39h1.2v1.2h-1.2zM475.55 106.31h1.2v1.2h-1.2zM466.85 105.68h1.2v1.2h-1.2zM497.96 63.47h1.2v1.2h-1.2zM485.41 92.64h1.2v1.2h-1.2zM454.47 85.54h1.2v1.2h-1.2zM443.46 94.97h1.2v1.2h-1.2zM468.82 88.76h1.2v1.2h-1.2zM479.53 87.73h1.2v1.2h-1.2zM476.08 68.95h1.2v1.2h-1.2zM487.88 101.33h1.2v1.2h-1.2zM490.06 79.08h1.2v1.2h-1.2zM469.47 84.22h1.2v1.2h-1.2zM448.35 106.85h1.2v1.2h-1.2zM467.97 107.78h1.2v1.2h-1.2zM422.64 98.33h1.2v1.2h-1.2zM453.86 104.8h1.2v1.2h-1.2zM455.35 79.06h1.2v1.2h-1.2zM470.89 72.35h1.2v1.2h-1.2zM446.44 71.28h1.2v1.2h-1.2zM466.92 103.78h1.2v1.2h-1.2zM465.48 74.48h1.2v1.2h-1.2zM466.69 79.65h1.2v1.2h-1.2zM448.02 103.98h1.2v1.2h-1.2zM483.41 77.38h1.2v1.2h-1.2zM469.09 90.11h1.2v1.2h-1.2zM442.47 92.11h1.2v1.2h-1.2zM473.74 68.85h1.2v1.2h-1.2zM486.66 62.28h1.2v1.2h-1.2zM464.22 88.3h1.2v1.2h-1.2zM469.15 82.97h1.2v1.2h-1.2zM470.14 105.59h1.2v1.2h-1.2zM470.02 80.16h1.2v1.2h-1.2zM447.23 94.53h1.2v1.2h-1.2zM450.51 104.96h1.2v1.2h-1.2zM472.64 86.57h1.2v1.2h-1.2zM439.32 110.3h1.2v1.2h-1.2zM481.93 86.97h1.2v1.2h-1.2zM451.32 94.66h1.2v1.2h-1.2zM460.28 74.84h1.2v1.2h-1.2zM461.7 82.04h1.2v1.2h-1.2zM474.99 83.38h1.2v1.2h-1.2zM483.47 65.49h1.2v1.2h-1.2zM461.36 80.98h1.2v1.2h-1.2zM474.64 71.5h1.2v1.2h-1.2zM486.17 98.68h1.2v1.2h-1.2zM473.95 95.05h1.2v1.2h-1.2zM434.18 101h1.2v1.2h-1.2z" fill="#222"/>
<line x1="406.1" y1="116.7" x2="538.2" y2="59.6" stroke="#5080ea" stroke-width="1.05"/>
<path d="M399.4 44V139.2H544.6" fill="none" stroke="#9a9a9a" stroke-width="0.6"/>
<line x1="398.2" y1="46.42" x2="399.4" y2="46.42" stroke="#9a9a9a" stroke-width="0.5"/>
<text x="395.9" y="47.72" class="tk" text-anchor="end">12</text>
<line x1="398.2" y1="64.88" x2="399.4" y2="64.88" stroke="#9a9a9a" stroke-width="0.5"/>
<text x="395.9" y="66.18" class="tk" text-anchor="end">8</text>
<line x1="398.2" y1="83.34" x2="399.4" y2="83.34" stroke="#9a9a9a" stroke-width="0.5"/>
<text x="395.9" y="84.64" class="tk" text-anchor="end">4</text>
<line x1="398.2" y1="101.8" x2="399.4" y2="101.8" stroke="#9a9a9a" stroke-width="0.5"/>
<text x="395.9" y="103.1" class="tk" text-anchor="end">0</text>
<line x1="398.2" y1="120.26" x2="399.4" y2="120.26" stroke="#9a9a9a" stroke-width="0.5"/>
<text x="395.9" y="121.56" class="tk" text-anchor="end">-4</text>
<line x1="398.2" y1="138.72" x2="399.4" y2="138.72" stroke="#9a9a9a" stroke-width="0.5"/>
<text x="395.9" y="140.02" class="tk" text-anchor="end">-8</text>
<line x1="423.6" y1="139.2" x2="423.6" y2="140.4" stroke="#9a9a9a" stroke-width="0.5"/>
<text x="423.6" y="145.3" class="tk" text-anchor="middle">150</text>
<line x1="464.25" y1="139.2" x2="464.25" y2="140.4" stroke="#9a9a9a" stroke-width="0.5"/>
<text x="464.25" y="145.3" class="tk" text-anchor="middle">160</text>
<line x1="504.9" y1="139.2" x2="504.9" y2="140.4" stroke="#9a9a9a" stroke-width="0.5"/>
<text x="504.9" y="145.3" class="tk" text-anchor="middle">170</text>
<text x="472.2" y="39" class="tt" text-anchor="middle">Bland-Altman plot</text>
<text x="472" y="152.3" class="al" text-anchor="middle">Means</text>
<text transform="translate(390.5 91.6) rotate(-90)" class="al" text-anchor="middle">Differences</text>
<rect x="50.4" y="258.15" width="145.2" height="2.8" fill="#aaf2aa"/>
<line x1="50.4" y1="259.5" x2="195.6" y2="259.5" stroke="#48b448" stroke-width="0.9" stroke-dasharray="0.8 0.85"/>
<rect x="50.4" y="295.71" width="145.2" height="2.8" fill="#f8b4b4"/>
<line x1="50.4" y1="297.5" x2="195.6" y2="297.5" stroke="#c85454" stroke-width="0.9" stroke-dasharray="0.8 0.85"/>
<rect x="50.4" y="277.37" width="145.2" height="1.9" fill="#a0a0f0"/>
<line x1="50.4" y1="278.5" x2="195.6" y2="278.5" stroke="#4242c6" stroke-width="1" stroke-dasharray="0.8 0.85"/>
<line x1="50.4" y1="283.9" x2="195.6" y2="283.9" stroke="#b2b2b2" stroke-width="1.4"/>
<polygon points="57,289.1 62.52,288.1 68.04,287.09 73.56,286.08 79.08,285.07 84.6,284.06 90.12,283.04 95.65,282.01 101.17,280.98 106.69,279.93 112.21,278.87 117.73,277.8 123.25,276.7 128.77,275.58 134.29,274.42 139.81,273.24 145.33,272.04 150.85,270.83 156.38,269.61 161.9,268.38 167.42,267.15 172.94,265.92 178.46,264.68 183.98,263.44 189.5,262.2 189.5,265.8 183.98,266.78 178.46,267.75 172.94,268.73 167.42,269.71 161.9,270.7 156.38,271.69 150.85,272.69 145.33,273.69 139.81,274.71 134.29,275.75 128.77,276.81 123.25,277.9 117.73,279.02 112.21,280.16 106.69,281.32 101.17,282.49 95.65,283.67 90.12,284.86 84.6,286.06 79.08,287.26 73.56,288.47 68.04,289.68 62.52,290.89 57,292.1" fill="#c8c8c8" fill-opacity="0.78"/>
<path d="M121.4 242.4h1.2v1.2h-1.2zM113.4 252.4h1.2v1.2h-1.2zM69.4 307.2h1.2v1.2h-1.2zM140.7 219.2h1.2v1.2h-1.2zM140.7 238.9h1.2v1.2h-1.2zM122.1 242.4h1.2v1.2h-1.2zM184.7 250.9h1.2v1.2h-1.2zM176.7 253.1h1.2v1.2h-1.2zM171.4 253.9h1.2v1.2h-1.2zM157.62 285.65h1.2v1.2h-1.2zM120.6 274.02h1.2v1.2h-1.2zM93.28 272.32h1.2v1.2h-1.2zM109.47 270.61h1.2v1.2h-1.2zM105.43 267.28h1.2v1.2h-1.2zM142.03 281.99h1.2v1.2h-1.2zM129.56 274.8h1.2v1.2h-1.2zM71.53 277.77h1.2v1.2h-1.2zM131.86 271.91h1.2v1.2h-1.2zM82.64 285.76h1.2v1.2h-1.2zM145.63 285h1.2v1.2h-1.2zM129.06 286.57h1.2v1.2h-1.2zM121.19 272.62h1.2v1.2h-1.2zM110.01 280.95h1.2v1.2h-1.2zM135.54 280.15h1.2v1.2h-1.2zM124.96 274.36h1.2v1.2h-1.2zM91.65 267.55h1.2v1.2h-1.2zM103.45 274.01h1.2v1.2h-1.2zM133.89 265.71h1.2v1.2h-1.2zM112.8 290.91h1.2v1.2h-1.2zM138.38 271.2h1.2v1.2h-1.2zM152.39 267.58h1.2v1.2h-1.2zM146.88 280.47h1.2v1.2h-1.2zM130.02 271.45h1.2v1.2h-1.2zM87.24 288.72h1.2v1.2h-1.2zM118.24 264.83h1.2v1.2h-1.2zM111.34 290.92h1.2v1.2h-1.2zM79.03 281.29h1.2v1.2h-1.2zM134.97 283.02h1.2v1.2h-1.2zM124.5 279.64h1.2v1.2h-1.2zM118.65 261.58h1.2v1.2h-1.2zM83.68 290.29h1.2v1.2h-1.2zM157.35 266.38h1.2v1.2h-1.2zM153.06 260.93h1.2v1.2h-1.2zM111.54 267.84h1.2v1.2h-1.2zM96.19 275.04h1.2v1.2h-1.2zM125.51 274.96h1.2v1.2h-1.2zM139.95 269.96h1.2v1.2h-1.2zM109.41 276.03h1.2v1.2h-1.2zM85.21 292.68h1.2v1.2h-1.2zM98.71 283.58h1.2v1.2h-1.2zM104.27 285.89h1.2v1.2h-1.2zM146.87 273.51h1.2v1.2h-1.2zM123.4 285.03h1.2v1.2h-1.2zM125.2 254.6h1.2v1.2h-1.2zM136 274.39h1.2v1.2h-1.2zM76.27 277.81h1.2v1.2h-1.2zM108.22 280.99h1.2v1.2h-1.2zM122.97 285.17h1.2v1.2h-1.2zM93.17 271.25h1.2v1.2h-1.2zM114.94 277.82h1.2v1.2h-1.2zM137.63 285.75h1.2v1.2h-1.2zM108.37 291.67h1.2v1.2h-1.2zM72.54 300.95h1.2v1.2h-1.2zM80.52 269.01h1.2v1.2h-1.2zM91.8 273.51h1.2v1.2h-1.2zM165.31 273.82h1.2v1.2h-1.2zM98.77 277.35h1.2v1.2h-1.2zM118.56 270.74h1.2v1.2h-1.2zM149.17 266.48h1.2v1.2h-1.2zM141.11 288.24h1.2v1.2h-1.2zM121.25 267.96h1.2v1.2h-1.2zM132.33 271.69h1.2v1.2h-1.2zM89.63 289.6h1.2v1.2h-1.2zM95.83 275.22h1.2v1.2h-1.2zM126.97 275.08h1.2v1.2h-1.2zM123.14 292.62h1.2v1.2h-1.2zM74.83 280.09h1.2v1.2h-1.2zM88.97 289.06h1.2v1.2h-1.2zM142.61 280.98h1.2v1.2h-1.2zM120.2 265.34h1.2v1.2h-1.2zM125.51 288.18h1.2v1.2h-1.2zM118.88 290.5h1.2v1.2h-1.2zM149.54 254.21h1.2v1.2h-1.2zM145.64 282.79h1.2v1.2h-1.2zM102.18 289.89h1.2v1.2h-1.2zM87.51 275.77h1.2v1.2h-1.2zM117.87 268.58h1.2v1.2h-1.2zM126.08 273.79h1.2v1.2h-1.2zM96.87 285.11h1.2v1.2h-1.2zM80.74 276.68h1.2v1.2h-1.2zM122.79 280.07h1.2v1.2h-1.2zM99.78 285.62h1.2v1.2h-1.2zM143.18 290.46h1.2v1.2h-1.2zM102.35 280.14h1.2v1.2h-1.2zM116.49 289.6h1.2v1.2h-1.2zM120.63 281.42h1.2v1.2h-1.2zM111.63 280.52h1.2v1.2h-1.2zM153.35 289.53h1.2v1.2h-1.2zM123.74 281.23h1.2v1.2h-1.2zM70.55 290.26h1.2v1.2h-1.2zM103.33 280.05h1.2v1.2h-1.2zM75.1 286.87h1.2v1.2h-1.2zM151.58 281.66h1.2v1.2h-1.2zM84.1 263.64h1.2v1.2h-1.2zM138.49 275.29h1.2v1.2h-1.2zM91.47 282.48h1.2v1.2h-1.2zM124.14 276.28h1.2v1.2h-1.2zM127.65 266.73h1.2v1.2h-1.2zM154.98 274.93h1.2v1.2h-1.2zM140.14 267.68h1.2v1.2h-1.2zM130.99 266.18h1.2v1.2h-1.2zM133.81 284.48h1.2v1.2h-1.2zM131.58 259.7h1.2v1.2h-1.2zM115.57 277.87h1.2v1.2h-1.2zM86.3 286.7h1.2v1.2h-1.2zM63.68 282.07h1.2v1.2h-1.2zM137.23 277.53h1.2v1.2h-1.2zM115.45 286.35h1.2v1.2h-1.2zM83.81 289.23h1.2v1.2h-1.2zM106.78 281.42h1.2v1.2h-1.2zM88.43 283.14h1.2v1.2h-1.2zM119.17 289.14h1.2v1.2h-1.2zM140.55 267.47h1.2v1.2h-1.2zM103.09 289.26h1.2v1.2h-1.2zM83.41 288.09h1.2v1.2h-1.2zM90.7 288.82h1.2v1.2h-1.2zM135.24 263.39h1.2v1.2h-1.2zM95.92 280.94h1.2v1.2h-1.2zM116.1 274.72h1.2v1.2h-1.2zM106.93 288.87h1.2v1.2h-1.2zM135.09 273.87h1.2v1.2h-1.2zM92.42 292.81h1.2v1.2h-1.2zM124.8 289.84h1.2v1.2h-1.2zM116.13 269.23h1.2v1.2h-1.2zM173.58 260.25h1.2v1.2h-1.2zM96.74 294.72h1.2v1.2h-1.2zM131.74 284.62h1.2v1.2h-1.2zM106.83 277.1h1.2v1.2h-1.2zM144.88 285.32h1.2v1.2h-1.2zM127.51 268.85h1.2v1.2h-1.2zM84.29 279.72h1.2v1.2h-1.2zM152.25 264.48h1.2v1.2h-1.2zM147.68 266.85h1.2v1.2h-1.2zM135.01 285.26h1.2v1.2h-1.2zM95.9 272.65h1.2v1.2h-1.2zM77.74 293.91h1.2v1.2h-1.2zM119.82 272.05h1.2v1.2h-1.2zM97.19 267.49h1.2v1.2h-1.2zM131.63 265.01h1.2v1.2h-1.2zM136.73 288.62h1.2v1.2h-1.2zM84.22 281.16h1.2v1.2h-1.2zM141.48 282.79h1.2v1.2h-1.2zM131.81 280.9h1.2v1.2h-1.2zM152.35 282.82h1.2v1.2h-1.2zM118.28 275.06h1.2v1.2h-1.2zM86.49 272.57h1.2v1.2h-1.2zM106.08 268.24h1.2v1.2h-1.2zM102.02 265.12h1.2v1.2h-1.2zM133.95 269.69h1.2v1.2h-1.2zM88.51 285.56h1.2v1.2h-1.2zM87.19 270.44h1.2v1.2h-1.2zM127.65 271.25h1.2v1.2h-1.2zM110.23 289.08h1.2v1.2h-1.2zM131.24 278.42h1.2v1.2h-1.2zM83.42 287.55h1.2v1.2h-1.2zM79.97 271.76h1.2v1.2h-1.2zM142.22 290.37h1.2v1.2h-1.2zM159.02 277.64h1.2v1.2h-1.2zM126.39 285.39h1.2v1.2h-1.2zM89.22 296.21h1.2v1.2h-1.2zM127.38 267.96h1.2v1.2h-1.2zM107.49 288.89h1.2v1.2h-1.2zM91.99 278.5h1.2v1.2h-1.2zM122.51 276.48h1.2v1.2h-1.2zM111.77 284.3h1.2v1.2h-1.2zM158.42 262.95h1.2v1.2h-1.2zM115.27 272.44h1.2v1.2h-1.2zM96.19 273.27h1.2v1.2h-1.2zM131.34 260.29h1.2v1.2h-1.2zM117.92 262.95h1.2v1.2h-1.2zM109.97 284.62h1.2v1.2h-1.2zM87.23 286.93h1.2v1.2h-1.2zM106.18 272.64h1.2v1.2h-1.2zM85.29 273.6h1.2v1.2h-1.2zM128.73 279.37h1.2v1.2h-1.2zM131.08 288.39h1.2v1.2h-1.2zM134.69 266.74h1.2v1.2h-1.2zM124.82 283.88h1.2v1.2h-1.2zM137.2 281.23h1.2v1.2h-1.2zM141.92 286.15h1.2v1.2h-1.2zM119.55 279.43h1.2v1.2h-1.2zM89.26 278.74h1.2v1.2h-1.2zM140.94 267.23h1.2v1.2h-1.2zM79.38 289.74h1.2v1.2h-1.2zM83.53 298.22h1.2v1.2h-1.2zM114.52 271.18h1.2v1.2h-1.2zM118.02 281.61h1.2v1.2h-1.2zM147.03 278.82h1.2v1.2h-1.2zM102.28 275.38h1.2v1.2h-1.2zM139.31 269.99h1.2v1.2h-1.2zM140.51 263.69h1.2v1.2h-1.2zM122.87 270.58h1.2v1.2h-1.2zM136.48 290h1.2v1.2h-1.2zM87.93 275.88h1.2v1.2h-1.2zM98.53 290.45h1.2v1.2h-1.2zM134.56 282.93h1.2v1.2h-1.2zM120.56 267.11h1.2v1.2h-1.2zM115.79 279.96h1.2v1.2h-1.2zM132.3 285.56h1.2v1.2h-1.2zM167.11 268.95h1.2v1.2h-1.2zM104.91 282.43h1.2v1.2h-1.2zM79.27 266.32h1.2v1.2h-1.2zM108.67 298.89h1.2v1.2h-1.2zM146.93 273.74h1.2v1.2h-1.2zM107.34 277.91h1.2v1.2h-1.2zM64.24 287.79h1.2v1.2h-1.2zM74.66 285.32h1.2v1.2h-1.2zM92.39 288.14h1.2v1.2h-1.2zM103.79 274.72h1.2v1.2h-1.2zM139.63 266.67h1.2v1.2h-1.2zM172.14 261.62h1.2v1.2h-1.2zM110.13 280.95h1.2v1.2h-1.2zM100.12 277.2h1.2v1.2h-1.2zM158.05 273.19h1.2v1.2h-1.2zM121.14 285.17h1.2v1.2h-1.2zM95.99 272.41h1.2v1.2h-1.2zM86.16 286.83h1.2v1.2h-1.2zM142.2 278.96h1.2v1.2h-1.2zM95.97 289.05h1.2v1.2h-1.2zM148.48 283.39h1.2v1.2h-1.2zM130.04 272.69h1.2v1.2h-1.2zM105.45 275.08h1.2v1.2h-1.2zM100.15 272.38h1.2v1.2h-1.2zM100.77 269.46h1.2v1.2h-1.2zM100.9 296.88h1.2v1.2h-1.2zM105.63 298.62h1.2v1.2h-1.2zM103.23 287.87h1.2v1.2h-1.2zM126.7 267.05h1.2v1.2h-1.2zM150.54 280.85h1.2v1.2h-1.2zM101.54 285.89h1.2v1.2h-1.2zM148.73 266.18h1.2v1.2h-1.2zM139.2 271.93h1.2v1.2h-1.2zM127.64 278.47h1.2v1.2h-1.2zM121.45 261.47h1.2v1.2h-1.2zM105.67 274.46h1.2v1.2h-1.2zM120.96 274.63h1.2v1.2h-1.2zM124.5 276.91h1.2v1.2h-1.2zM132.14 268.29h1.2v1.2h-1.2zM99.98 275.77h1.2v1.2h-1.2zM128.31 270.86h1.2v1.2h-1.2zM125.99 255.07h1.2v1.2h-1.2zM93.72 291.43h1.2v1.2h-1.2zM99.75 273.33h1.2v1.2h-1.2zM97.68 286.84h1.2v1.2h-1.2zM110.11 287.59h1.2v1.2h-1.2zM106.73 277.53h1.2v1.2h-1.2zM159.69 265.82h1.2v1.2h-1.2zM119.06 285.96h1.2v1.2h-1.2zM152.68 276.72h1.2v1.2h-1.2zM137.51 271.92h1.2v1.2h-1.2zM95.98 272.99h1.2v1.2h-1.2zM137.49 280.07h1.2v1.2h-1.2zM130.94 266.8h1.2v1.2h-1.2zM139.59 271.65h1.2v1.2h-1.2zM140.38 274.57h1.2v1.2h-1.2zM147.93 260.52h1.2v1.2h-1.2zM117.13 278.17h1.2v1.2h-1.2zM141.5 273.64h1.2v1.2h-1.2zM125.09 269.13h1.2v1.2h-1.2zM115.21 270.71h1.2v1.2h-1.2zM137.26 283.43h1.2v1.2h-1.2zM82.7 274.09h1.2v1.2h-1.2zM104.51 275.74h1.2v1.2h-1.2zM164.25 265.7h1.2v1.2h-1.2zM139.63 287.78h1.2v1.2h-1.2zM116.99 271.2h1.2v1.2h-1.2zM85.66 277.36h1.2v1.2h-1.2zM91.4 277.22h1.2v1.2h-1.2zM133.05 267.3h1.2v1.2h-1.2zM101.15 255.88h1.2v1.2h-1.2zM95.09 283.42h1.2v1.2h-1.2zM70.62 299.71h1.2v1.2h-1.2zM127.79 268.05h1.2v1.2h-1.2zM86.63 267.48h1.2v1.2h-1.2zM100.05 290.33h1.2v1.2h-1.2zM146.51 264.75h1.2v1.2h-1.2zM83.54 283.74h1.2v1.2h-1.2zM112.51 260.64h1.2v1.2h-1.2zM95.72 287.44h1.2v1.2h-1.2zM149.28 270.99h1.2v1.2h-1.2zM105.71 276.64h1.2v1.2h-1.2zM134.03 267.78h1.2v1.2h-1.2zM165.03 257.36h1.2v1.2h-1.2zM116.51 279.88h1.2v1.2h-1.2zM160.9 276.37h1.2v1.2h-1.2zM95.36 279.21h1.2v1.2h-1.2zM130.04 277.23h1.2v1.2h-1.2zM91.36 288.77h1.2v1.2h-1.2zM109.72 270.77h1.2v1.2h-1.2zM81.75 282.07h1.2v1.2h-1.2zM130.63 285.31h1.2v1.2h-1.2zM106.73 278.74h1.2v1.2h-1.2zM102.28 286.63h1.2v1.2h-1.2zM84.25 273.6h1.2v1.2h-1.2zM112.31 273.45h1.2v1.2h-1.2zM87.76 286.12h1.2v1.2h-1.2zM106.55 281.06h1.2v1.2h-1.2zM132.01 275.06h1.2v1.2h-1.2zM93.03 284.46h1.2v1.2h-1.2zM92.28 278.84h1.2v1.2h-1.2zM87.92 276.66h1.2v1.2h-1.2zM141.07 266.49h1.2v1.2h-1.2zM159.49 255.48h1.2v1.2h-1.2zM121.26 282.57h1.2v1.2h-1.2zM107.43 290.03h1.2v1.2h-1.2zM86.6 280.65h1.2v1.2h-1.2zM174.37 286.85h1.2v1.2h-1.2zM107.41 281.53h1.2v1.2h-1.2zM101.74 287.01h1.2v1.2h-1.2zM97.44 273.2h1.2v1.2h-1.2zM86.99 282.6h1.2v1.2h-1.2zM159.44 275.3h1.2v1.2h-1.2zM119.29 287.34h1.2v1.2h-1.2zM127.95 258.79h1.2v1.2h-1.2zM118.4 286.26h1.2v1.2h-1.2zM126.06 281.63h1.2v1.2h-1.2zM144.36 270.21h1.2v1.2h-1.2zM91.74 265.5h1.2v1.2h-1.2zM156.21 275.41h1.2v1.2h-1.2zM151.98 276.9h1.2v1.2h-1.2zM110.65 282.51h1.2v1.2h-1.2zM91.27 280.45h1.2v1.2h-1.2zM106.77 284.49h1.2v1.2h-1.2zM126.66 265.4h1.2v1.2h-1.2zM129.71 278.56h1.2v1.2h-1.2zM110.08 285.85h1.2v1.2h-1.2zM90.61 297.59h1.2v1.2h-1.2zM136.35 285.63h1.2v1.2h-1.2zM100.75 271.82h1.2v1.2h-1.2zM82.56 283.1h1.2v1.2h-1.2zM109.51 275.83h1.2v1.2h-1.2zM99.41 279.83h1.2v1.2h-1.2zM84.3 289.57h1.2v1.2h-1.2zM104.07 272.01h1.2v1.2h-1.2zM91.58 277.13h1.2v1.2h-1.2zM117.28 280.54h1.2v1.2h-1.2zM104.49 292.38h1.2v1.2h-1.2zM95.82 272.77h1.2v1.2h-1.2zM127.95 288.56h1.2v1.2h-1.2zM99.74 305.13h1.2v1.2h-1.2zM90.67 298.17h1.2v1.2h-1.2zM128.06 274.63h1.2v1.2h-1.2zM91.94 276.47h1.2v1.2h-1.2zM90.21 279.65h1.2v1.2h-1.2zM77.37 298.64h1.2v1.2h-1.2zM86.94 301.07h1.2v1.2h-1.2zM122.6 281.14h1.2v1.2h-1.2zM91.69 282.11h1.2v1.2h-1.2zM142.27 264.69h1.2v1.2h-1.2zM104.2 283.45h1.2v1.2h-1.2zM104.88 266.33h1.2v1.2h-1.2zM115.44 266.73h1.2v1.2h-1.2zM84.97 274.47h1.2v1.2h-1.2zM113.52 281.11h1.2v1.2h-1.2zM130.07 283.64h1.2v1.2h-1.2zM121.12 270.63h1.2v1.2h-1.2zM145.97 266.21h1.2v1.2h-1.2zM135.47 276.77h1.2v1.2h-1.2zM136.46 272.99h1.2v1.2h-1.2zM114.28 283.48h1.2v1.2h-1.2zM141.04 280.39h1.2v1.2h-1.2zM144.95 270.43h1.2v1.2h-1.2zM99.09 288.16h1.2v1.2h-1.2zM146.77 263.93h1.2v1.2h-1.2zM145.62 270.61h1.2v1.2h-1.2zM115.84 265.72h1.2v1.2h-1.2zM79.08 289.62h1.2v1.2h-1.2zM128.9 282.05h1.2v1.2h-1.2zM137.22 269.09h1.2v1.2h-1.2zM169.08 267.65h1.2v1.2h-1.2zM103.84 273.71h1.2v1.2h-1.2zM102.02 296.43h1.2v1.2h-1.2zM112.69 275.03h1.2v1.2h-1.2zM105.97 295.17h1.2v1.2h-1.2zM83.18 271.91h1.2v1.2h-1.2zM117.73 278.58h1.2v1.2h-1.2zM125.24 273.89h1.2v1.2h-1.2zM114.57 280.08h1.2v1.2h-1.2zM107.16 284.39h1.2v1.2h-1.2zM101.8 290.42h1.2v1.2h-1.2zM119.52 276.46h1.2v1.2h-1.2zM96.32 276.81h1.2v1.2h-1.2zM90.32 272.08h1.2v1.2h-1.2zM116.22 260.91h1.2v1.2h-1.2zM86.04 290.57h1.2v1.2h-1.2zM121.47 284.12h1.2v1.2h-1.2zM80.25 298.26h1.2v1.2h-1.2zM141.2 278.12h1.2v1.2h-1.2zM118.17 276.34h1.2v1.2h-1.2zM128.84 274.3h1.2v1.2h-1.2zM112.7 280.87h1.2v1.2h-1.2zM141.75 279.13h1.2v1.2h-1.2zM131.06 279.34h1.2v1.2h-1.2zM116.79 274.17h1.2v1.2h-1.2zM106.73 270.29h1.2v1.2h-1.2zM101.31 285.67h1.2v1.2h-1.2zM110.69 271.21h1.2v1.2h-1.2zM126.46 283.23h1.2v1.2h-1.2zM122.84 288.74h1.2v1.2h-1.2zM137.54 269.55h1.2v1.2h-1.2zM136.82 272.41h1.2v1.2h-1.2zM140.81 266.25h1.2v1.2h-1.2zM79.01 266.32h1.2v1.2h-1.2zM138.19 279.98h1.2v1.2h-1.2zM134.01 273.1h1.2v1.2h-1.2zM129.52 280.16h1.2v1.2h-1.2zM99.3 286.91h1.2v1.2h-1.2zM97.42 288.58h1.2v1.2h-1.2zM99.73 267.09h1.2v1.2h-1.2zM72.74 280.36h1.2v1.2h-1.2zM102.26 291.39h1.2v1.2h-1.2zM103 284.9h1.2v1.2h-1.2zM137.72 282.2h1.2v1.2h-1.2zM86.99 274.85h1.2v1.2h-1.2zM90.38 276.24h1.2v1.2h-1.2zM76.21 289.92h1.2v1.2h-1.2zM104.23 284.91h1.2v1.2h-1.2zM131.44 283.86h1.2v1.2h-1.2zM78.43 293.99h1.2v1.2h-1.2zM113.62 286.1h1.2v1.2h-1.2zM98.66 278.07h1.2v1.2h-1.2zM85.17 278.57h1.2v1.2h-1.2zM146.78 270.2h1.2v1.2h-1.2zM134.1 279.26h1.2v1.2h-1.2zM96.63 285.93h1.2v1.2h-1.2zM86.48 279.47h1.2v1.2h-1.2zM121.6 276.48h1.2v1.2h-1.2zM111.17 279.51h1.2v1.2h-1.2zM122.58 283.51h1.2v1.2h-1.2zM88.77 283.53h1.2v1.2h-1.2zM77.71 282.07h1.2v1.2h-1.2zM127.72 281.68h1.2v1.2h-1.2zM82.04 295.1h1.2v1.2h-1.2zM102.15 289.86h1.2v1.2h-1.2zM134.16 284.77h1.2v1.2h-1.2zM89.19 274.92h1.2v1.2h-1.2zM118.2 284.37h1.2v1.2h-1.2zM138.09 276.03h1.2v1.2h-1.2zM133.96 276.81h1.2v1.2h-1.2zM77.76 279.81h1.2v1.2h-1.2zM121.78 261.78h1.2v1.2h-1.2zM125.58 297.32h1.2v1.2h-1.2zM131.32 289.05h1.2v1.2h-1.2zM130.43 274.58h1.2v1.2h-1.2zM137.35 278.1h1.2v1.2h-1.2zM114.01 279.26h1.2v1.2h-1.2zM85.88 295.81h1.2v1.2h-1.2zM87.08 277.73h1.2v1.2h-1.2zM84.42 282.78h1.2v1.2h-1.2zM110.13 271.25h1.2v1.2h-1.2zM104.66 276.96h1.2v1.2h-1.2zM108.66 293.13h1.2v1.2h-1.2zM116.82 281.52h1.2v1.2h-1.2zM106.52 277.34h1.2v1.2h-1.2zM134.41 275.02h1.2v1.2h-1.2zM63.17 289.39h1.2v1.2h-1.2zM150.69 278.17h1.2v1.2h-1.2zM140.51 282.87h1.2v1.2h-1.2zM85.25 292.03h1.2v1.2h-1.2zM89.15 274.68h1.2v1.2h-1.2zM99.31 284.56h1.2v1.2h-1.2zM96.24 280.54h1.2v1.2h-1.2zM125.2 270.31h1.2v1.2h-1.2zM129.98 278.66h1.2v1.2h-1.2zM93.67 289.85h1.2v1.2h-1.2zM89.84 294.72h1.2v1.2h-1.2zM101.8 284.05h1.2v1.2h-1.2zM138.56 266.85h1.2v1.2h-1.2zM108.35 271.35h1.2v1.2h-1.2zM89.74 291.14h1.2v1.2h-1.2zM79.79 293.55h1.2v1.2h-1.2zM74.38 279.63h1.2v1.2h-1.2zM102.95 283.42h1.2v1.2h-1.2zM129.29 284.51h1.2v1.2h-1.2zM125.84 254.11h1.2v1.2h-1.2zM133.89 279.79h1.2v1.2h-1.2zM147.83 265.41h1.2v1.2h-1.2zM128.65 278.59h1.2v1.2h-1.2zM148.39 286.22h1.2v1.2h-1.2zM122.93 283.34h1.2v1.2h-1.2zM134.59 270.75h1.2v1.2h-1.2zM100.9 289.19h1.2v1.2h-1.2zM125.97 278.79h1.2v1.2h-1.2zM149.99 281.05h1.2v1.2h-1.2zM121.46 286.24h1.2v1.2h-1.2zM130.14 255.78h1.2v1.2h-1.2zM155.57 261.81h1.2v1.2h-1.2zM121.71 278.27h1.2v1.2h-1.2zM114.13 270.01h1.2v1.2h-1.2zM108.12 276.99h1.2v1.2h-1.2zM111.7 291.09h1.2v1.2h-1.2zM143.06 271.48h1.2v1.2h-1.2zM121.95 282.62h1.2v1.2h-1.2zM113.02 266.55h1.2v1.2h-1.2zM133.02 285.93h1.2v1.2h-1.2zM134.2 280.77h1.2v1.2h-1.2zM137.03 272.38h1.2v1.2h-1.2zM123.29 278.44h1.2v1.2h-1.2zM64.15 275.62h1.2v1.2h-1.2zM93.62 280.01h1.2v1.2h-1.2zM110.79 260.53h1.2v1.2h-1.2zM108.43 290.91h1.2v1.2h-1.2zM132.32 276.99h1.2v1.2h-1.2zM130.97 281.22h1.2v1.2h-1.2zM76.2 286.52h1.2v1.2h-1.2zM85.63 288.72h1.2v1.2h-1.2zM142.06 275.82h1.2v1.2h-1.2zM139.34 265.78h1.2v1.2h-1.2zM144.54 270.28h1.2v1.2h-1.2zM128.53 277.24h1.2v1.2h-1.2zM142.89 290.9h1.2v1.2h-1.2zM152.57 274.31h1.2v1.2h-1.2zM132.56 259.43h1.2v1.2h-1.2zM118.45 288.86h1.2v1.2h-1.2zM135.3 283.7h1.2v1.2h-1.2zM122.66 276.68h1.2v1.2h-1.2zM152.87 260.85h1.2v1.2h-1.2zM105.77 283h1.2v1.2h-1.2zM130.21 260.53h1.2v1.2h-1.2zM148.17 278.66h1.2v1.2h-1.2zM138.8 286.56h1.2v1.2h-1.2zM106.77 276.35h1.2v1.2h-1.2zM114.28 284.21h1.2v1.2h-1.2zM131.89 266.95h1.2v1.2h-1.2zM117.44 263.07h1.2v1.2h-1.2zM134.8 261.98h1.2v1.2h-1.2zM145.41 280.29h1.2v1.2h-1.2zM107.89 285.42h1.2v1.2h-1.2zM153.49 260.67h1.2v1.2h-1.2zM103.4 272.58h1.2v1.2h-1.2zM92.49 282.99h1.2v1.2h-1.2zM91.45 284.51h1.2v1.2h-1.2zM130.36 287.05h1.2v1.2h-1.2zM124.38 270.7h1.2v1.2h-1.2zM110.16 284.17h1.2v1.2h-1.2zM103.98 271.92h1.2v1.2h-1.2zM107.07 272.46h1.2v1.2h-1.2zM150.2 272.44h1.2v1.2h-1.2zM119.76 271.16h1.2v1.2h-1.2zM128.59 282.24h1.2v1.2h-1.2zM139.63 294.96h1.2v1.2h-1.2zM119.4 265.16h1.2v1.2h-1.2zM120.15 265.24h1.2v1.2h-1.2zM110.77 289.17h1.2v1.2h-1.2zM127.7 260.75h1.2v1.2h-1.2zM100.21 284.84h1.2v1.2h-1.2zM94.88 283.11h1.2v1.2h-1.2zM138.81 275.75h1.2v1.2h-1.2zM108.1 279.18h1.2v1.2h-1.2zM102.45 267.13h1.2v1.2h-1.2zM130.45 259.3h1.2v1.2h-1.2zM83.48 300.96h1.2v1.2h-1.2zM149.14 276.99h1.2v1.2h-1.2zM155.33 272.96h1.2v1.2h-1.2zM100.23 292.53h1.2v1.2h-1.2zM103.69 289.78h1.2v1.2h-1.2zM151.17 277.68h1.2v1.2h-1.2zM108.52 285.43h1.2v1.2h-1.2zM113.09 265.94h1.2v1.2h-1.2zM112.71 274.33h1.2v1.2h-1.2zM85.47 279.8h1.2v1.2h-1.2zM91.58 287.31h1.2v1.2h-1.2zM147.09 274.33h1.2v1.2h-1.2zM96.6 275.58h1.2v1.2h-1.2zM141.85 266.49h1.2v1.2h-1.2zM145.59 293.75h1.2v1.2h-1.2zM138.14 278.46h1.2v1.2h-1.2zM146.52 276.05h1.2v1.2h-1.2zM138.67 276.48h1.2v1.2h-1.2zM115.69 294.59h1.2v1.2h-1.2zM100.22 287.35h1.2v1.2h-1.2zM103.76 291.99h1.2v1.2h-1.2zM73.81 295.73h1.2v1.2h-1.2zM98.3 276.54h1.2v1.2h-1.2zM117.53 270.5h1.2v1.2h-1.2zM94.76 286.56h1.2v1.2h-1.2zM120.49 287.25h1.2v1.2h-1.2zM93 282.91h1.2v1.2h-1.2zM180.17 272.11h1.2v1.2h-1.2zM84.11 271.27h1.2v1.2h-1.2zM102.84 296.78h1.2v1.2h-1.2zM148.57 267.78h1.2v1.2h-1.2zM97.15 292.97h1.2v1.2h-1.2zM101.66 282.06h1.2v1.2h-1.2zM138.33 273.51h1.2v1.2h-1.2zM137.87 275.82h1.2v1.2h-1.2zM130.72 264.37h1.2v1.2h-1.2zM157.27 283.79h1.2v1.2h-1.2zM133.43 285.26h1.2v1.2h-1.2zM125.26 275.49h1.2v1.2h-1.2zM82.55 288.15h1.2v1.2h-1.2zM96.33 268.78h1.2v1.2h-1.2zM140.8 281.82h1.2v1.2h-1.2zM162.56 282.67h1.2v1.2h-1.2zM163.49 257.46h1.2v1.2h-1.2zM153.28 276.93h1.2v1.2h-1.2zM110.17 287.6h1.2v1.2h-1.2zM130.92 281.9h1.2v1.2h-1.2zM74.56 280.01h1.2v1.2h-1.2zM149.6 278.11h1.2v1.2h-1.2zM85.34 276.14h1.2v1.2h-1.2zM86.66 269.81h1.2v1.2h-1.2zM131.31 262.56h1.2v1.2h-1.2zM124.96 268.28h1.2v1.2h-1.2zM123.55 280.37h1.2v1.2h-1.2zM120.37 270.3h1.2v1.2h-1.2zM133.03 272.61h1.2v1.2h-1.2zM145.56 287.03h1.2v1.2h-1.2zM121.25 279.4h1.2v1.2h-1.2zM78.15 284.79h1.2v1.2h-1.2zM117.42 263.74h1.2v1.2h-1.2zM113.35 291.46h1.2v1.2h-1.2zM147.36 285.14h1.2v1.2h-1.2zM79.23 290.03h1.2v1.2h-1.2zM87.17 281.11h1.2v1.2h-1.2zM134.4 270.14h1.2v1.2h-1.2zM134.29 271.77h1.2v1.2h-1.2zM133.69 264.63h1.2v1.2h-1.2zM87.25 277.5h1.2v1.2h-1.2zM103.71 273.02h1.2v1.2h-1.2zM115.99 277.92h1.2v1.2h-1.2zM98.59 288.34h1.2v1.2h-1.2zM113.21 288.52h1.2v1.2h-1.2zM99.51 278.94h1.2v1.2h-1.2zM112.77 276.57h1.2v1.2h-1.2zM122.16 286.3h1.2v1.2h-1.2zM145.96 263.56h1.2v1.2h-1.2zM144.46 276.09h1.2v1.2h-1.2zM146.51 258.66h1.2v1.2h-1.2zM143.57 269.74h1.2v1.2h-1.2zM133.98 283.74h1.2v1.2h-1.2zM131.21 265.38h1.2v1.2h-1.2zM107.54 279.72h1.2v1.2h-1.2zM90.1 290.3h1.2v1.2h-1.2zM134.84 283.7h1.2v1.2h-1.2zM88.66 273.87h1.2v1.2h-1.2zM120.91 276.47h1.2v1.2h-1.2zM82.63 280.66h1.2v1.2h-1.2zM151.78 271.31h1.2v1.2h-1.2zM148.67 281.5h1.2v1.2h-1.2zM149.42 279.93h1.2v1.2h-1.2zM108.69 281.81h1.2v1.2h-1.2zM99.16 270.05h1.2v1.2h-1.2zM97.33 282.63h1.2v1.2h-1.2zM105.98 279.8h1.2v1.2h-1.2zM144.87 276.76h1.2v1.2h-1.2zM103.28 275.82h1.2v1.2h-1.2zM111.1 290.4h1.2v1.2h-1.2zM126.07 280.7h1.2v1.2h-1.2zM112.81 269.32h1.2v1.2h-1.2zM69.28 281.4h1.2v1.2h-1.2zM100.58 277.5h1.2v1.2h-1.2zM86.45 270.6h1.2v1.2h-1.2zM142.03 278.45h1.2v1.2h-1.2zM101.97 270.91h1.2v1.2h-1.2zM142.07 264.85h1.2v1.2h-1.2zM88.71 292.5h1.2v1.2h-1.2zM105.05 297.53h1.2v1.2h-1.2zM100.49 280.29h1.2v1.2h-1.2zM133.54 283.57h1.2v1.2h-1.2zM120.54 277.11h1.2v1.2h-1.2zM63.68 274.96h1.2v1.2h-1.2zM124.33 266.57h1.2v1.2h-1.2zM134.88 264.44h1.2v1.2h-1.2zM118.47 288.69h1.2v1.2h-1.2zM85.17 283.12h1.2v1.2h-1.2zM126.38 278.08h1.2v1.2h-1.2zM143.28 256.95h1.2v1.2h-1.2zM129.06 271.25h1.2v1.2h-1.2zM147.75 281.5h1.2v1.2h-1.2zM137.17 263.83h1.2v1.2h-1.2zM72.21 280.52h1.2v1.2h-1.2zM82.83 283.04h1.2v1.2h-1.2zM107.44 279.45h1.2v1.2h-1.2zM110.58 276.74h1.2v1.2h-1.2zM94.15 282h1.2v1.2h-1.2zM75.23 292.18h1.2v1.2h-1.2zM117.54 280.67h1.2v1.2h-1.2zM84.35 270.78h1.2v1.2h-1.2zM129.22 271.13h1.2v1.2h-1.2zM60.83 294.43h1.2v1.2h-1.2zM130.13 293.76h1.2v1.2h-1.2zM105.31 282.43h1.2v1.2h-1.2zM152.36 277.16h1.2v1.2h-1.2zM95.6 273.58h1.2v1.2h-1.2zM128.52 274.47h1.2v1.2h-1.2zM115.13 281.04h1.2v1.2h-1.2zM105.65 272.37h1.2v1.2h-1.2zM89.13 276.8h1.2v1.2h-1.2zM122.41 281.86h1.2v1.2h-1.2zM155.49 266.41h1.2v1.2h-1.2zM119.77 270.53h1.2v1.2h-1.2zM135.82 282.71h1.2v1.2h-1.2zM116.54 259.54h1.2v1.2h-1.2zM75.81 298.01h1.2v1.2h-1.2zM104.93 280.92h1.2v1.2h-1.2zM128.16 271.94h1.2v1.2h-1.2zM90.46 300.63h1.2v1.2h-1.2zM144.58 258h1.2v1.2h-1.2zM79.17 291.66h1.2v1.2h-1.2zM101.54 272.81h1.2v1.2h-1.2zM141.51 278.63h1.2v1.2h-1.2zM66.83 302.73h1.2v1.2h-1.2zM154.57 282.49h1.2v1.2h-1.2zM128.91 284.54h1.2v1.2h-1.2zM146.97 270.47h1.2v1.2h-1.2zM165.19 278.45h1.2v1.2h-1.2zM62.17 288.9h1.2v1.2h-1.2zM123.15 265.85h1.2v1.2h-1.2zM159.13 271.26h1.2v1.2h-1.2zM102.59 281.62h1.2v1.2h-1.2zM160 278.38h1.2v1.2h-1.2zM148.8 269.53h1.2v1.2h-1.2zM123.9 269.52h1.2v1.2h-1.2zM114.03 268.39h1.2v1.2h-1.2zM82.9 282.76h1.2v1.2h-1.2zM85.74 292.17h1.2v1.2h-1.2zM146.21 287.39h1.2v1.2h-1.2zM121.95 278.09h1.2v1.2h-1.2zM128.71 287.24h1.2v1.2h-1.2zM89.67 265.34h1.2v1.2h-1.2zM97.38 283.53h1.2v1.2h-1.2zM105.17 293.11h1.2v1.2h-1.2zM116.52 272.45h1.2v1.2h-1.2zM115.67 266.93h1.2v1.2h-1.2zM109.06 286.8h1.2v1.2h-1.2zM94.53 271.75h1.2v1.2h-1.2zM106.03 267.45h1.2v1.2h-1.2zM139 262.34h1.2v1.2h-1.2zM131.17 281.52h1.2v1.2h-1.2zM140.47 272.71h1.2v1.2h-1.2zM137.98 289.92h1.2v1.2h-1.2zM80.89 283.24h1.2v1.2h-1.2zM100.71 272.23h1.2v1.2h-1.2zM117.6 271.25h1.2v1.2h-1.2zM89.83 274.54h1.2v1.2h-1.2zM88.55 298.3h1.2v1.2h-1.2zM98.57 283.46h1.2v1.2h-1.2zM176.86 265.58h1.2v1.2h-1.2zM107.57 273.16h1.2v1.2h-1.2zM100.4 270.17h1.2v1.2h-1.2zM102.6 266.53h1.2v1.2h-1.2zM117.2 280.33h1.2v1.2h-1.2zM138.24 273.52h1.2v1.2h-1.2zM96.2 268.29h1.2v1.2h-1.2zM100 287.23h1.2v1.2h-1.2zM136.83 262.49h1.2v1.2h-1.2zM154.2 268.83h1.2v1.2h-1.2zM135.23 274.86h1.2v1.2h-1.2zM146.96 280.45h1.2v1.2h-1.2zM67.64 286.05h1.2v1.2h-1.2zM91.16 273.42h1.2v1.2h-1.2zM94.06 267.81h1.2v1.2h-1.2zM106.07 291.1h1.2v1.2h-1.2zM103.24 272.13h1.2v1.2h-1.2zM91.95 287.28h1.2v1.2h-1.2zM114.85 285.32h1.2v1.2h-1.2zM67.33 302.93h1.2v1.2h-1.2zM124.11 274.14h1.2v1.2h-1.2zM133.63 275.5h1.2v1.2h-1.2zM132.7 267.25h1.2v1.2h-1.2zM90.64 285.96h1.2v1.2h-1.2zM122.87 279.73h1.2v1.2h-1.2zM80 285.86h1.2v1.2h-1.2zM105.2 270.32h1.2v1.2h-1.2zM122.36 266.27h1.2v1.2h-1.2zM103.34 298.57h1.2v1.2h-1.2zM126.51 270.41h1.2v1.2h-1.2zM118.63 291.79h1.2v1.2h-1.2zM153.62 289.49h1.2v1.2h-1.2zM89.01 271.01h1.2v1.2h-1.2zM123.77 275.94h1.2v1.2h-1.2zM129.41 281.81h1.2v1.2h-1.2zM98.41 274.83h1.2v1.2h-1.2zM127.28 289.42h1.2v1.2h-1.2zM92.66 290.87h1.2v1.2h-1.2zM141.5 282.34h1.2v1.2h-1.2zM122.28 274.81h1.2v1.2h-1.2zM87 284.11h1.2v1.2h-1.2zM113.45 281.94h1.2v1.2h-1.2zM156.33 270.28h1.2v1.2h-1.2zM149.95 267.98h1.2v1.2h-1.2zM114.67 269.67h1.2v1.2h-1.2zM121.24 271.31h1.2v1.2h-1.2zM167.87 274.89h1.2v1.2h-1.2zM125.2 281.83h1.2v1.2h-1.2zM106.07 290.93h1.2v1.2h-1.2zM90.09 282.49h1.2v1.2h-1.2zM114.39 289.44h1.2v1.2h-1.2zM148.02 272.96h1.2v1.2h-1.2zM115.85 288.11h1.2v1.2h-1.2zM99.24 266.24h1.2v1.2h-1.2zM134.5 273.6h1.2v1.2h-1.2zM127.09 272.63h1.2v1.2h-1.2z" fill="#222"/>
<line x1="57" y1="290.6" x2="189.5" y2="264" stroke="#5080ea" stroke-width="1.05"/>
<path d="M50.4 216.2V312.2H195.6" fill="none" stroke="#9a9a9a" stroke-width="0.6"/>
<line x1="49.2" y1="217.9" x2="50.4" y2="217.9" stroke="#9a9a9a" stroke-width="0.5"/>
<text x="46.9" y="219.2" class="tk" text-anchor="end">30</text>
<line x1="49.2" y1="239.8" x2="50.4" y2="239.8" stroke="#9a9a9a" stroke-width="0.5"/>
<text x="46.9" y="241.1" class="tk" text-anchor="end">20</text>
<line x1="49.2" y1="261.7" x2="50.4" y2="261.7" stroke="#9a9a9a" stroke-width="0.5"/>
<text x="46.9" y="263" class="tk" text-anchor="end">10</text>
<line x1="49.2" y1="283.6" x2="50.4" y2="283.6" stroke="#9a9a9a" stroke-width="0.5"/>
<text x="46.9" y="284.9" class="tk" text-anchor="end">0</text>
<line x1="49.2" y1="305.5" x2="50.4" y2="305.5" stroke="#9a9a9a" stroke-width="0.5"/>
<text x="46.9" y="306.8" class="tk" text-anchor="end">-10</text>
<line x1="54.4" y1="312.2" x2="54.4" y2="313.4" stroke="#9a9a9a" stroke-width="0.5"/>
<text x="54.4" y="318.3" class="tk" text-anchor="middle">140</text>
<line x1="85.53" y1="312.2" x2="85.53" y2="313.4" stroke="#9a9a9a" stroke-width="0.5"/>
<text x="85.53" y="318.3" class="tk" text-anchor="middle">150</text>
<line x1="116.66" y1="312.2" x2="116.66" y2="313.4" stroke="#9a9a9a" stroke-width="0.5"/>
<text x="116.66" y="318.3" class="tk" text-anchor="middle">160</text>
<line x1="147.79" y1="312.2" x2="147.79" y2="313.4" stroke="#9a9a9a" stroke-width="0.5"/>
<text x="147.79" y="318.3" class="tk" text-anchor="middle">170</text>
<line x1="178.92" y1="312.2" x2="178.92" y2="313.4" stroke="#9a9a9a" stroke-width="0.5"/>
<text x="178.92" y="318.3" class="tk" text-anchor="middle">180</text>
<text x="123.2" y="211.5" class="tt" text-anchor="middle">Bland-Altman plot</text>
<text x="123" y="325.2" class="al" text-anchor="middle">Means</text>
<text transform="translate(40.6 264.2) rotate(-90)" class="al" text-anchor="middle">Differences</text>
<rect x="224.4" y="241.89" width="146.6" height="4.2" fill="#aaf2aa"/>
<line x1="224.4" y1="243.5" x2="371" y2="243.5" stroke="#48b448" stroke-width="0.9" stroke-dasharray="0.8 0.85"/>
<rect x="224.4" y="294.98" width="146.6" height="4.3" fill="#f8b4b4"/>
<line x1="224.4" y1="297.5" x2="371" y2="297.5" stroke="#c85454" stroke-width="0.9" stroke-dasharray="0.8 0.85"/>
<rect x="224.4" y="268.84" width="146.6" height="3.4" fill="#a0a0f0"/>
<line x1="224.4" y1="270.5" x2="371" y2="270.5" stroke="#4242c6" stroke-width="1" stroke-dasharray="0.8 0.85"/>
<line x1="224.4" y1="281.2" x2="371" y2="281.2" stroke="#b2b2b2" stroke-width="1.4"/>
<polygon points="232.1,291.6 237.59,289.9 243.07,288.2 248.56,286.49 254.05,284.78 259.54,283.06 265.02,281.34 270.51,279.6 276,277.85 281.49,276.08 286.98,274.28 292.46,272.44 297.95,270.55 303.44,268.61 308.93,266.62 314.41,264.59 319.9,262.53 325.39,260.44 330.88,258.34 336.36,256.23 341.85,254.12 347.34,251.99 352.82,249.86 358.31,247.73 363.8,245.6 363.8,251.6 358.31,253.29 352.82,254.99 347.34,256.68 341.85,258.38 336.36,260.09 330.88,261.81 325.39,263.53 319.9,265.27 314.41,267.04 308.93,268.83 303.44,270.66 297.95,272.55 292.46,274.49 286.98,276.47 281.49,278.5 276,280.55 270.51,282.62 265.02,284.71 259.54,286.81 254.05,288.92 248.56,291.04 243.07,293.15 237.59,295.28 232.1,297.4" fill="#c8c8c8" fill-opacity="0.78"/>
<path d="M281.8 223.8h1.2v1.2h-1.2zM231 285h1.2v1.2h-1.2zM258.4 304.8h1.2v1.2h-1.2zM259.9 307.6h1.2v1.2h-1.2zM251.1 259.4h1.2v1.2h-1.2zM305 219.1h1.2v1.2h-1.2zM317.4 233.9h1.2v1.2h-1.2zM358.6 236.1h1.2v1.2h-1.2zM349 238.9h1.2v1.2h-1.2zM343.4 238.9h1.2v1.2h-1.2zM309.1 238.9h1.2v1.2h-1.2zM277.05 277.33h1.2v1.2h-1.2zM323.56 246.46h1.2v1.2h-1.2zM263.24 292.62h1.2v1.2h-1.2zM330 248.96h1.2v1.2h-1.2zM335.82 256.43h1.2v1.2h-1.2zM310.1 279.19h1.2v1.2h-1.2zM308.63 253.77h1.2v1.2h-1.2zM331.67 256.55h1.2v1.2h-1.2zM302.53 273.14h1.2v1.2h-1.2zM337.38 276.27h1.2v1.2h-1.2zM283.57 271.47h1.2v1.2h-1.2zM295.97 263.26h1.2v1.2h-1.2zM303.13 266.13h1.2v1.2h-1.2zM328.75 260.89h1.2v1.2h-1.2zM322.44 264.86h1.2v1.2h-1.2zM326.87 279.31h1.2v1.2h-1.2zM305.88 279.19h1.2v1.2h-1.2zM342.92 270.43h1.2v1.2h-1.2zM304.84 257.6h1.2v1.2h-1.2zM279.4 278.74h1.2v1.2h-1.2zM272.28 287.02h1.2v1.2h-1.2zM315.98 262.9h1.2v1.2h-1.2zM321.69 279.52h1.2v1.2h-1.2zM273 273.17h1.2v1.2h-1.2zM284.98 284.44h1.2v1.2h-1.2zM289.29 284.41h1.2v1.2h-1.2zM296.91 295.17h1.2v1.2h-1.2zM331.43 243.99h1.2v1.2h-1.2zM330.79 261.52h1.2v1.2h-1.2zM297.68 276.34h1.2v1.2h-1.2zM284.55 289.73h1.2v1.2h-1.2zM312.87 252.02h1.2v1.2h-1.2zM270.72 287.48h1.2v1.2h-1.2zM321.55 275.04h1.2v1.2h-1.2zM278.01 291.29h1.2v1.2h-1.2zM278.06 283.6h1.2v1.2h-1.2zM290.31 265.18h1.2v1.2h-1.2zM310.63 275.18h1.2v1.2h-1.2zM334.31 275.93h1.2v1.2h-1.2zM283.61 286.93h1.2v1.2h-1.2zM319.31 250.14h1.2v1.2h-1.2zM313.88 271.79h1.2v1.2h-1.2zM292.7 275.88h1.2v1.2h-1.2zM265.87 286.22h1.2v1.2h-1.2zM329.21 266.28h1.2v1.2h-1.2zM300.24 255.87h1.2v1.2h-1.2zM292.95 267.19h1.2v1.2h-1.2zM313.57 253.3h1.2v1.2h-1.2zM290.48 262.86h1.2v1.2h-1.2zM332.73 260.45h1.2v1.2h-1.2zM261.86 284.38h1.2v1.2h-1.2zM325.21 277.95h1.2v1.2h-1.2zM316.63 286.06h1.2v1.2h-1.2zM281.64 273.94h1.2v1.2h-1.2zM300.54 270.33h1.2v1.2h-1.2zM304.42 272.43h1.2v1.2h-1.2zM328.36 246.19h1.2v1.2h-1.2zM274.81 271.76h1.2v1.2h-1.2zM299.49 257.2h1.2v1.2h-1.2zM269.1 293h1.2v1.2h-1.2zM330.18 258.19h1.2v1.2h-1.2zM313.79 288.21h1.2v1.2h-1.2zM296.92 269.28h1.2v1.2h-1.2zM320.87 248.5h1.2v1.2h-1.2zM301.41 279.75h1.2v1.2h-1.2zM273.07 259.97h1.2v1.2h-1.2zM291.53 263.19h1.2v1.2h-1.2zM314.38 263.72h1.2v1.2h-1.2zM308.34 258.51h1.2v1.2h-1.2zM295.65 256.91h1.2v1.2h-1.2zM284.24 292.42h1.2v1.2h-1.2zM303.92 278.41h1.2v1.2h-1.2zM301.74 244.96h1.2v1.2h-1.2zM295.56 278.15h1.2v1.2h-1.2zM254.17 274.86h1.2v1.2h-1.2zM292.79 261.25h1.2v1.2h-1.2zM290.42 279.02h1.2v1.2h-1.2zM291.33 261.1h1.2v1.2h-1.2zM276.28 279.66h1.2v1.2h-1.2zM285.1 278.48h1.2v1.2h-1.2zM316.09 272.68h1.2v1.2h-1.2zM335.16 260.84h1.2v1.2h-1.2zM312.3 283.2h1.2v1.2h-1.2zM303.33 283.58h1.2v1.2h-1.2zM311.62 271.68h1.2v1.2h-1.2zM324.72 246.44h1.2v1.2h-1.2zM301.62 251.82h1.2v1.2h-1.2zM299.86 281.6h1.2v1.2h-1.2zM318.5 249.03h1.2v1.2h-1.2zM339.76 267.96h1.2v1.2h-1.2zM299.08 278.96h1.2v1.2h-1.2zM300.25 266.98h1.2v1.2h-1.2zM297.45 279.23h1.2v1.2h-1.2zM302.44 273.62h1.2v1.2h-1.2zM302.78 264.1h1.2v1.2h-1.2zM279.32 266.85h1.2v1.2h-1.2zM303.14 279.64h1.2v1.2h-1.2zM279.86 266.49h1.2v1.2h-1.2zM290.29 263.91h1.2v1.2h-1.2zM293.71 282h1.2v1.2h-1.2zM309.07 271.03h1.2v1.2h-1.2zM271.45 286.75h1.2v1.2h-1.2zM319.09 260.1h1.2v1.2h-1.2zM295.9 264.82h1.2v1.2h-1.2zM292.45 248.63h1.2v1.2h-1.2zM301.56 279.26h1.2v1.2h-1.2zM303.62 258.67h1.2v1.2h-1.2zM284.32 265.54h1.2v1.2h-1.2zM304.51 284.54h1.2v1.2h-1.2zM307.5 281.82h1.2v1.2h-1.2zM323.22 271.16h1.2v1.2h-1.2zM311.43 267.49h1.2v1.2h-1.2zM271.75 276.61h1.2v1.2h-1.2zM285.13 284.47h1.2v1.2h-1.2zM301.13 278.08h1.2v1.2h-1.2zM307.39 258.5h1.2v1.2h-1.2zM309.36 278.47h1.2v1.2h-1.2zM324.1 262.58h1.2v1.2h-1.2zM312.53 281.02h1.2v1.2h-1.2zM304.02 277.66h1.2v1.2h-1.2zM284.79 271.36h1.2v1.2h-1.2zM323.76 258.21h1.2v1.2h-1.2zM334.53 264.77h1.2v1.2h-1.2zM350.7 263.1h1.2v1.2h-1.2zM323.33 273.05h1.2v1.2h-1.2zM314.68 258.72h1.2v1.2h-1.2zM269.96 266.79h1.2v1.2h-1.2zM327.32 250.41h1.2v1.2h-1.2zM288.23 262.33h1.2v1.2h-1.2zM296.43 263.3h1.2v1.2h-1.2zM329.45 263.9h1.2v1.2h-1.2zM289.02 256.64h1.2v1.2h-1.2zM284.29 285.38h1.2v1.2h-1.2zM278.78 262.93h1.2v1.2h-1.2zM297.84 277.46h1.2v1.2h-1.2zM300.02 269.57h1.2v1.2h-1.2zM281.58 274.99h1.2v1.2h-1.2zM304.54 276.69h1.2v1.2h-1.2zM321.92 271.42h1.2v1.2h-1.2zM276.74 267.53h1.2v1.2h-1.2zM318.03 255.31h1.2v1.2h-1.2zM300.72 257.38h1.2v1.2h-1.2zM286.6 286.81h1.2v1.2h-1.2zM331.24 265.9h1.2v1.2h-1.2zM311.46 261.01h1.2v1.2h-1.2zM303.07 263.64h1.2v1.2h-1.2zM286.42 283.14h1.2v1.2h-1.2zM317.19 270.43h1.2v1.2h-1.2zM304.03 258.56h1.2v1.2h-1.2zM323.53 267.73h1.2v1.2h-1.2zM292.97 264.88h1.2v1.2h-1.2zM311.84 255.22h1.2v1.2h-1.2zM267.72 293.42h1.2v1.2h-1.2zM290.92 271.44h1.2v1.2h-1.2zM309.77 257.48h1.2v1.2h-1.2zM312.5 260.97h1.2v1.2h-1.2zM313.63 253.85h1.2v1.2h-1.2zM297.1 279.12h1.2v1.2h-1.2zM302.06 271.21h1.2v1.2h-1.2zM308.48 272.82h1.2v1.2h-1.2zM260.92 265.02h1.2v1.2h-1.2zM328.61 256.41h1.2v1.2h-1.2zM290.57 279.67h1.2v1.2h-1.2zM293.18 262.76h1.2v1.2h-1.2zM285.66 253.87h1.2v1.2h-1.2zM353.5 258.17h1.2v1.2h-1.2zM294.89 258.72h1.2v1.2h-1.2zM339.63 252.18h1.2v1.2h-1.2zM286.23 283.65h1.2v1.2h-1.2zM332.53 261.04h1.2v1.2h-1.2zM307.31 270.33h1.2v1.2h-1.2zM310.89 275.1h1.2v1.2h-1.2zM339.55 246.2h1.2v1.2h-1.2zM297.08 274.78h1.2v1.2h-1.2zM257.78 298h1.2v1.2h-1.2zM303.11 271.2h1.2v1.2h-1.2zM293.02 268.21h1.2v1.2h-1.2zM320.94 249.3h1.2v1.2h-1.2zM312.34 269.83h1.2v1.2h-1.2zM311.92 264.25h1.2v1.2h-1.2zM271.21 264.48h1.2v1.2h-1.2zM320.78 267.06h1.2v1.2h-1.2zM279.47 263.68h1.2v1.2h-1.2zM327.31 262.77h1.2v1.2h-1.2zM324.31 249.49h1.2v1.2h-1.2zM306.48 266.91h1.2v1.2h-1.2zM318.58 267h1.2v1.2h-1.2zM301.7 264.55h1.2v1.2h-1.2zM325.5 268.78h1.2v1.2h-1.2zM328.83 267.59h1.2v1.2h-1.2zM356.42 248.21h1.2v1.2h-1.2zM277.35 286.57h1.2v1.2h-1.2zM299.57 285.79h1.2v1.2h-1.2zM281.96 263.43h1.2v1.2h-1.2zM281.98 280.29h1.2v1.2h-1.2zM325.32 246.31h1.2v1.2h-1.2zM328.6 276.96h1.2v1.2h-1.2zM275.04 293.63h1.2v1.2h-1.2zM295.28 270.6h1.2v1.2h-1.2zM289.35 278.97h1.2v1.2h-1.2zM303.41 283.34h1.2v1.2h-1.2zM297.63 257.99h1.2v1.2h-1.2zM273.48 275.57h1.2v1.2h-1.2zM296.69 281.03h1.2v1.2h-1.2zM319.67 267.56h1.2v1.2h-1.2zM293.82 245.31h1.2v1.2h-1.2zM320.48 261.07h1.2v1.2h-1.2zM257.8 264.25h1.2v1.2h-1.2zM285.41 284.77h1.2v1.2h-1.2zM333.77 258.61h1.2v1.2h-1.2zM301.89 274.69h1.2v1.2h-1.2zM311.31 263.74h1.2v1.2h-1.2zM313.71 253.44h1.2v1.2h-1.2zM324.29 252.01h1.2v1.2h-1.2zM324.83 283.54h1.2v1.2h-1.2zM304.09 266.08h1.2v1.2h-1.2zM331.6 262.35h1.2v1.2h-1.2zM299.44 282.63h1.2v1.2h-1.2zM298.4 282.43h1.2v1.2h-1.2zM310.53 268.34h1.2v1.2h-1.2zM282.12 271.95h1.2v1.2h-1.2zM288.14 268.13h1.2v1.2h-1.2zM284.12 259.11h1.2v1.2h-1.2zM282.25 277.94h1.2v1.2h-1.2zM316.64 283.55h1.2v1.2h-1.2zM311.48 255.88h1.2v1.2h-1.2zM278.1 266.28h1.2v1.2h-1.2zM280.17 272.18h1.2v1.2h-1.2zM265.98 287.34h1.2v1.2h-1.2zM280.73 254.21h1.2v1.2h-1.2zM332.32 247.45h1.2v1.2h-1.2zM308.5 251.56h1.2v1.2h-1.2zM303.47 267.52h1.2v1.2h-1.2zM275.34 282.9h1.2v1.2h-1.2zM293.82 268.72h1.2v1.2h-1.2zM274.6 280.46h1.2v1.2h-1.2zM304.21 262.78h1.2v1.2h-1.2zM333.22 258.37h1.2v1.2h-1.2zM289.25 297.17h1.2v1.2h-1.2zM289.97 272.65h1.2v1.2h-1.2zM308.06 275.02h1.2v1.2h-1.2zM271.56 290.29h1.2v1.2h-1.2zM276.68 269.64h1.2v1.2h-1.2zM275.71 296.04h1.2v1.2h-1.2zM298.73 281.2h1.2v1.2h-1.2zM322.41 278.84h1.2v1.2h-1.2zM309.53 264.9h1.2v1.2h-1.2zM290.59 271.53h1.2v1.2h-1.2zM308.17 267.85h1.2v1.2h-1.2zM321.53 261.88h1.2v1.2h-1.2zM316.67 275.7h1.2v1.2h-1.2zM336.94 271.4h1.2v1.2h-1.2zM341.11 248.73h1.2v1.2h-1.2zM245.38 298.42h1.2v1.2h-1.2zM313.3 283.26h1.2v1.2h-1.2zM307.62 268.67h1.2v1.2h-1.2zM300.52 244.05h1.2v1.2h-1.2zM290.66 282.42h1.2v1.2h-1.2zM299.52 264.3h1.2v1.2h-1.2zM323.37 263h1.2v1.2h-1.2zM280.52 266.56h1.2v1.2h-1.2zM306.5 261.76h1.2v1.2h-1.2zM329.92 245.9h1.2v1.2h-1.2zM263.27 292.28h1.2v1.2h-1.2zM304.21 277.04h1.2v1.2h-1.2zM313.52 276.3h1.2v1.2h-1.2zM328.76 261.65h1.2v1.2h-1.2zM310.83 258.34h1.2v1.2h-1.2zM349.2 251.92h1.2v1.2h-1.2zM307.49 266.65h1.2v1.2h-1.2zM323.5 243.53h1.2v1.2h-1.2zM284.83 287.39h1.2v1.2h-1.2zM263.75 265.02h1.2v1.2h-1.2zM272.28 287.97h1.2v1.2h-1.2zM314.15 271.44h1.2v1.2h-1.2zM307.25 275.82h1.2v1.2h-1.2zM295.25 280.74h1.2v1.2h-1.2zM335.77 241.38h1.2v1.2h-1.2zM304.94 270.8h1.2v1.2h-1.2zM281.34 264h1.2v1.2h-1.2zM310.24 253.3h1.2v1.2h-1.2zM337.65 267.68h1.2v1.2h-1.2zM301.78 263.98h1.2v1.2h-1.2zM281.04 302.62h1.2v1.2h-1.2zM281.55 269.9h1.2v1.2h-1.2zM320.05 251.61h1.2v1.2h-1.2zM310.62 274.06h1.2v1.2h-1.2zM342.15 245.66h1.2v1.2h-1.2zM312.8 282.68h1.2v1.2h-1.2zM309.09 270.27h1.2v1.2h-1.2zM314.64 261.18h1.2v1.2h-1.2zM292.47 260.68h1.2v1.2h-1.2zM287.47 275.02h1.2v1.2h-1.2zM316.03 253.41h1.2v1.2h-1.2zM293.84 294.64h1.2v1.2h-1.2zM279.46 278.46h1.2v1.2h-1.2zM304.21 262.47h1.2v1.2h-1.2zM300.44 279.59h1.2v1.2h-1.2zM263.62 292.26h1.2v1.2h-1.2zM297.06 254.66h1.2v1.2h-1.2zM301.17 258.51h1.2v1.2h-1.2zM321.36 287.83h1.2v1.2h-1.2zM307.26 256.78h1.2v1.2h-1.2zM280.61 292.14h1.2v1.2h-1.2zM305.86 269.65h1.2v1.2h-1.2zM287.85 288.9h1.2v1.2h-1.2zM306.46 279.06h1.2v1.2h-1.2zM327.41 249.14h1.2v1.2h-1.2zM307.36 264.49h1.2v1.2h-1.2zM323.51 282.17h1.2v1.2h-1.2zM290.22 276.18h1.2v1.2h-1.2zM303.06 266.83h1.2v1.2h-1.2zM272.36 274.74h1.2v1.2h-1.2zM266.58 280.39h1.2v1.2h-1.2zM278.29 283.34h1.2v1.2h-1.2zM297.59 258.01h1.2v1.2h-1.2zM296.62 279.88h1.2v1.2h-1.2zM321.2 281.36h1.2v1.2h-1.2zM276.39 269.58h1.2v1.2h-1.2zM307.85 280.25h1.2v1.2h-1.2zM273.24 268.07h1.2v1.2h-1.2zM332.78 256.27h1.2v1.2h-1.2zM324.73 282.54h1.2v1.2h-1.2zM322.52 286.84h1.2v1.2h-1.2zM273.3 293.75h1.2v1.2h-1.2zM330.65 265.54h1.2v1.2h-1.2zM331.1 271.26h1.2v1.2h-1.2zM272.31 281.99h1.2v1.2h-1.2zM314.4 267.02h1.2v1.2h-1.2zM337.25 253.75h1.2v1.2h-1.2zM339.87 263.96h1.2v1.2h-1.2zM304.94 251.77h1.2v1.2h-1.2zM338.39 248.53h1.2v1.2h-1.2zM309.79 255.73h1.2v1.2h-1.2zM286.4 278.03h1.2v1.2h-1.2zM301.2 284.23h1.2v1.2h-1.2zM291.74 263.75h1.2v1.2h-1.2zM306.7 278.39h1.2v1.2h-1.2zM321.36 247.74h1.2v1.2h-1.2zM297.6 271.62h1.2v1.2h-1.2zM314.58 252.39h1.2v1.2h-1.2zM319.07 257.5h1.2v1.2h-1.2zM277.32 268.35h1.2v1.2h-1.2zM317.4 257.57h1.2v1.2h-1.2zM295.08 281.71h1.2v1.2h-1.2zM297.83 272.13h1.2v1.2h-1.2zM301.03 255.8h1.2v1.2h-1.2zM321.89 277.56h1.2v1.2h-1.2zM264.07 263.78h1.2v1.2h-1.2zM292.88 271.33h1.2v1.2h-1.2zM293.6 270.56h1.2v1.2h-1.2zM293.15 287.25h1.2v1.2h-1.2zM286.44 258.41h1.2v1.2h-1.2zM312.26 270.77h1.2v1.2h-1.2zM276.38 286.31h1.2v1.2h-1.2zM294.32 285.1h1.2v1.2h-1.2zM312.38 262.39h1.2v1.2h-1.2zM352.78 249.65h1.2v1.2h-1.2zM338.1 279.85h1.2v1.2h-1.2zM282.3 292.37h1.2v1.2h-1.2zM292.03 284.15h1.2v1.2h-1.2zM310.6 275.26h1.2v1.2h-1.2zM303.41 274.28h1.2v1.2h-1.2zM307.46 286.01h1.2v1.2h-1.2zM290.16 288.22h1.2v1.2h-1.2zM284.15 259.25h1.2v1.2h-1.2zM302.45 274.32h1.2v1.2h-1.2zM303.39 257.51h1.2v1.2h-1.2zM287.34 291.89h1.2v1.2h-1.2zM299.76 255.28h1.2v1.2h-1.2zM299.49 253.82h1.2v1.2h-1.2zM307.85 254.31h1.2v1.2h-1.2zM284.47 256.68h1.2v1.2h-1.2zM312.87 272.52h1.2v1.2h-1.2zM338.6 265.87h1.2v1.2h-1.2zM288.43 266.86h1.2v1.2h-1.2zM318.85 281.44h1.2v1.2h-1.2zM330.47 249.57h1.2v1.2h-1.2zM305.71 255.81h1.2v1.2h-1.2zM275.11 273.26h1.2v1.2h-1.2zM338.35 260.91h1.2v1.2h-1.2zM306.58 265.17h1.2v1.2h-1.2zM291.76 290.79h1.2v1.2h-1.2zM310.37 255.9h1.2v1.2h-1.2zM302.97 292.69h1.2v1.2h-1.2zM278.84 295.17h1.2v1.2h-1.2zM273.78 280.51h1.2v1.2h-1.2zM305.09 281.07h1.2v1.2h-1.2zM302.75 275.22h1.2v1.2h-1.2zM324.52 245.11h1.2v1.2h-1.2zM312.97 259.3h1.2v1.2h-1.2zM333.54 254.78h1.2v1.2h-1.2zM309.54 279.86h1.2v1.2h-1.2zM299.4 266.8h1.2v1.2h-1.2zM328.46 280.42h1.2v1.2h-1.2zM300.2 255.81h1.2v1.2h-1.2zM279.18 267.74h1.2v1.2h-1.2zM295.47 260.07h1.2v1.2h-1.2zM338.54 254.4h1.2v1.2h-1.2zM327.06 251.92h1.2v1.2h-1.2zM289.83 283.49h1.2v1.2h-1.2zM313.7 268.63h1.2v1.2h-1.2zM284.39 268.24h1.2v1.2h-1.2zM267.39 281.95h1.2v1.2h-1.2zM309.97 287.02h1.2v1.2h-1.2zM294.85 284.88h1.2v1.2h-1.2zM298.81 272.56h1.2v1.2h-1.2z" fill="#222"/>
<line x1="232.1" y1="294.5" x2="363.8" y2="248.6" stroke="#5080ea" stroke-width="1.05"/>
<path d="M224.4 215.3V311.6H371" fill="none" stroke="#9a9a9a" stroke-width="0.6"/>
<line x1="223.2" y1="219.44" x2="224.4" y2="219.44" stroke="#9a9a9a" stroke-width="0.5"/>
<text x="220.9" y="220.74" class="tk" text-anchor="end">20</text>
<line x1="223.2" y1="250.17" x2="224.4" y2="250.17" stroke="#9a9a9a" stroke-width="0.5"/>
<text x="220.9" y="251.47" class="tk" text-anchor="end">10</text>
<line x1="223.2" y1="280.9" x2="224.4" y2="280.9" stroke="#9a9a9a" stroke-width="0.5"/>
<text x="220.9" y="282.2" class="tk" text-anchor="end">0</text>
<line x1="223.2" y1="311.63" x2="224.4" y2="311.63" stroke="#9a9a9a" stroke-width="0.5"/>
<text x="220.9" y="312.93" class="tk" text-anchor="end">-10</text>
<line x1="238.1" y1="311.6" x2="238.1" y2="312.8" stroke="#9a9a9a" stroke-width="0.5"/>
<text x="238.1" y="317.7" class="tk" text-anchor="middle">150</text>
<line x1="275.8" y1="311.6" x2="275.8" y2="312.8" stroke="#9a9a9a" stroke-width="0.5"/>
<text x="275.8" y="317.7" class="tk" text-anchor="middle">160</text>
<line x1="313.5" y1="311.6" x2="313.5" y2="312.8" stroke="#9a9a9a" stroke-width="0.5"/>
<text x="313.5" y="317.7" class="tk" text-anchor="middle">170</text>
<line x1="351.2" y1="311.6" x2="351.2" y2="312.8" stroke="#9a9a9a" stroke-width="0.5"/>
<text x="351.2" y="317.7" class="tk" text-anchor="middle">180</text>
<text x="298" y="211.4" class="tt" text-anchor="middle">Bland-Altman plot</text>
<text x="297.7" y="325.2" class="al" text-anchor="middle">Means</text>
<text transform="translate(214.7 263.45) rotate(-90)" class="al" text-anchor="middle">Differences</text>
<rect x="401.4" y="261.45" width="142.8" height="3.2" fill="#aaf2aa"/>
<line x1="401.4" y1="263.5" x2="544.2" y2="263.5" stroke="#48b448" stroke-width="0.9" stroke-dasharray="0.8 0.85"/>
<rect x="401.4" y="295.7" width="142.8" height="3.2" fill="#f8b4b4"/>
<line x1="401.4" y1="297.5" x2="544.2" y2="297.5" stroke="#c85454" stroke-width="0.9" stroke-dasharray="0.8 0.85"/>
<rect x="401.4" y="279.08" width="142.8" height="2.2" fill="#a0a0f0"/>
<line x1="401.4" y1="280.5" x2="544.2" y2="280.5" stroke="#4242c6" stroke-width="1" stroke-dasharray="0.8 0.85"/>
<line x1="401.4" y1="283.2" x2="544.2" y2="283.2" stroke="#b2b2b2" stroke-width="1.4"/>
<polygon points="408.3,291.2 413.66,290.25 419.02,289.3 424.38,288.35 429.73,287.39 435.09,286.43 440.45,285.46 445.81,284.49 451.17,283.51 456.52,282.51 461.88,281.5 467.24,280.46 472.6,279.4 477.96,278.31 483.32,277.18 488.67,276.03 494.03,274.86 499.39,273.68 504.75,272.48 510.11,271.28 515.47,270.07 520.83,268.86 526.18,267.64 531.54,266.42 536.9,265.2 536.9,269.2 531.54,270.13 526.18,271.06 520.83,271.99 515.47,272.93 510.11,273.87 504.75,274.82 499.39,275.77 494.03,276.74 488.67,277.72 483.32,278.72 477.96,279.74 472.6,280.8 467.24,281.89 461.88,283 456.52,284.14 451.17,285.29 445.81,286.46 440.45,287.64 435.09,288.82 429.73,290.01 424.38,291.2 419.02,292.4 413.66,293.6 408.3,294.8" fill="#c8c8c8" fill-opacity="0.78"/>
<path d="M426.9 306.2h1.2v1.2h-1.2zM407.1 281.4h1.2v1.2h-1.2zM536.7 220.4h1.2v1.2h-1.2zM495.5 252.6h1.2v1.2h-1.2zM513.4 256.7h1.2v1.2h-1.2zM531.2 276.8h1.2v1.2h-1.2zM494.81 263.44h1.2v1.2h-1.2zM513.71 276.12h1.2v1.2h-1.2zM443.97 282.51h1.2v1.2h-1.2zM467.47 281.57h1.2v1.2h-1.2zM492.35 274.75h1.2v1.2h-1.2zM503.11 270.59h1.2v1.2h-1.2zM485.06 270.83h1.2v1.2h-1.2zM418.21 290.81h1.2v1.2h-1.2zM506.27 285.14h1.2v1.2h-1.2zM479.69 277.48h1.2v1.2h-1.2zM478.49 280.99h1.2v1.2h-1.2zM507.12 267.43h1.2v1.2h-1.2zM465.14 288.96h1.2v1.2h-1.2zM488.32 282.38h1.2v1.2h-1.2zM422.68 288.29h1.2v1.2h-1.2zM443.78 292.04h1.2v1.2h-1.2zM449.52 274.05h1.2v1.2h-1.2zM461.48 279.2h1.2v1.2h-1.2zM487.97 286.7h1.2v1.2h-1.2zM437.83 278.27h1.2v1.2h-1.2zM443.88 282.95h1.2v1.2h-1.2zM434.29 277.32h1.2v1.2h-1.2zM487.26 264.31h1.2v1.2h-1.2zM433.27 304.23h1.2v1.2h-1.2zM447.13 293.47h1.2v1.2h-1.2zM454.58 290.19h1.2v1.2h-1.2zM484.4 276.99h1.2v1.2h-1.2zM472.13 267.07h1.2v1.2h-1.2zM489.41 266.11h1.2v1.2h-1.2zM513.79 280.02h1.2v1.2h-1.2zM477.97 273.79h1.2v1.2h-1.2zM473.14 281.94h1.2v1.2h-1.2zM466.35 276.71h1.2v1.2h-1.2zM489.25 285.21h1.2v1.2h-1.2zM503.04 273.25h1.2v1.2h-1.2zM508.06 272.51h1.2v1.2h-1.2zM505.73 280.86h1.2v1.2h-1.2zM510.54 264.97h1.2v1.2h-1.2zM453.78 275.18h1.2v1.2h-1.2zM487.15 288.51h1.2v1.2h-1.2zM491.64 271.79h1.2v1.2h-1.2zM419.29 295.23h1.2v1.2h-1.2zM463.43 290.44h1.2v1.2h-1.2zM459.64 287.63h1.2v1.2h-1.2zM433.74 282.81h1.2v1.2h-1.2zM450.26 286.59h1.2v1.2h-1.2zM465.62 282.67h1.2v1.2h-1.2zM505.35 270.46h1.2v1.2h-1.2zM483.77 289.27h1.2v1.2h-1.2zM483.82 283.72h1.2v1.2h-1.2zM463.32 291.67h1.2v1.2h-1.2zM491.43 272.64h1.2v1.2h-1.2zM471.63 278.71h1.2v1.2h-1.2zM447.94 280.54h1.2v1.2h-1.2zM437.57 283.15h1.2v1.2h-1.2zM470.44 273.94h1.2v1.2h-1.2zM501.15 268.97h1.2v1.2h-1.2zM457.36 274.21h1.2v1.2h-1.2zM472.87 276.38h1.2v1.2h-1.2zM436.35 298.87h1.2v1.2h-1.2zM488.93 279.77h1.2v1.2h-1.2zM470.86 279.13h1.2v1.2h-1.2zM443.21 272.58h1.2v1.2h-1.2zM474.58 270.82h1.2v1.2h-1.2zM457.92 279.46h1.2v1.2h-1.2zM422.29 288.81h1.2v1.2h-1.2zM447.3 288.05h1.2v1.2h-1.2zM427.62 303.28h1.2v1.2h-1.2zM463.86 279.71h1.2v1.2h-1.2zM468.61 274.47h1.2v1.2h-1.2zM442.6 284.57h1.2v1.2h-1.2zM448.79 288.54h1.2v1.2h-1.2zM447.28 285.1h1.2v1.2h-1.2zM479.77 268.34h1.2v1.2h-1.2zM489.45 284.19h1.2v1.2h-1.2zM511.58 277.75h1.2v1.2h-1.2zM447.18 286.13h1.2v1.2h-1.2zM500.63 279.73h1.2v1.2h-1.2zM441.02 291.51h1.2v1.2h-1.2zM436.41 290.19h1.2v1.2h-1.2zM458.02 291.39h1.2v1.2h-1.2zM459.91 279.55h1.2v1.2h-1.2zM511.5 279.87h1.2v1.2h-1.2zM463.12 284.42h1.2v1.2h-1.2zM492.48 275.21h1.2v1.2h-1.2zM470.1 275.39h1.2v1.2h-1.2zM445.99 290.26h1.2v1.2h-1.2zM492.65 278.69h1.2v1.2h-1.2zM425.51 286.45h1.2v1.2h-1.2zM429.61 286.38h1.2v1.2h-1.2zM504.52 262.29h1.2v1.2h-1.2zM442.27 283.7h1.2v1.2h-1.2zM470.72 281.76h1.2v1.2h-1.2zM448.25 277.16h1.2v1.2h-1.2zM433.43 288.52h1.2v1.2h-1.2zM483.9 291.24h1.2v1.2h-1.2zM487.45 273.04h1.2v1.2h-1.2zM490.54 274.65h1.2v1.2h-1.2zM465.82 274.72h1.2v1.2h-1.2zM448.41 283.54h1.2v1.2h-1.2zM503.78 272.21h1.2v1.2h-1.2zM430.75 288.34h1.2v1.2h-1.2zM455.43 287.28h1.2v1.2h-1.2zM446.56 288.57h1.2v1.2h-1.2zM458.75 280.76h1.2v1.2h-1.2zM417.39 284.96h1.2v1.2h-1.2zM520.65 277.26h1.2v1.2h-1.2zM422.45 287.42h1.2v1.2h-1.2zM481.82 289.63h1.2v1.2h-1.2zM451.14 287.77h1.2v1.2h-1.2zM427.25 287.41h1.2v1.2h-1.2zM472.48 276.46h1.2v1.2h-1.2zM470.5 280.51h1.2v1.2h-1.2zM435.67 293.13h1.2v1.2h-1.2zM455.14 290.73h1.2v1.2h-1.2zM503.05 272.4h1.2v1.2h-1.2zM491.95 282.7h1.2v1.2h-1.2zM473.75 267.29h1.2v1.2h-1.2zM468.48 282.83h1.2v1.2h-1.2zM513.4 272.02h1.2v1.2h-1.2zM479.37 273.7h1.2v1.2h-1.2zM481.69 267.02h1.2v1.2h-1.2zM486.84 281.67h1.2v1.2h-1.2zM487.92 281.38h1.2v1.2h-1.2zM461.86 290.14h1.2v1.2h-1.2zM430.43 295.33h1.2v1.2h-1.2zM452.3 274.52h1.2v1.2h-1.2zM444.82 291.75h1.2v1.2h-1.2zM484.94 269.94h1.2v1.2h-1.2zM500.99 277.14h1.2v1.2h-1.2zM447.58 289.13h1.2v1.2h-1.2zM459.15 277.33h1.2v1.2h-1.2zM441.99 278.7h1.2v1.2h-1.2zM491.08 281.27h1.2v1.2h-1.2zM495.21 265.33h1.2v1.2h-1.2zM414.74 299.43h1.2v1.2h-1.2zM474.44 288.21h1.2v1.2h-1.2zM482.76 282.51h1.2v1.2h-1.2zM449.15 285.68h1.2v1.2h-1.2zM484.04 280.63h1.2v1.2h-1.2zM468.53 285.93h1.2v1.2h-1.2zM437.98 283.54h1.2v1.2h-1.2zM462.14 274.81h1.2v1.2h-1.2zM428.4 289.42h1.2v1.2h-1.2zM450.6 273.97h1.2v1.2h-1.2zM490.87 280.49h1.2v1.2h-1.2zM473.74 285.7h1.2v1.2h-1.2zM503.2 268.34h1.2v1.2h-1.2zM454.84 291.95h1.2v1.2h-1.2zM436.98 277.26h1.2v1.2h-1.2zM442.32 287.89h1.2v1.2h-1.2zM467.26 287.1h1.2v1.2h-1.2zM478.19 282.18h1.2v1.2h-1.2zM474.64 281.12h1.2v1.2h-1.2zM477.22 279.69h1.2v1.2h-1.2zM486.47 267.26h1.2v1.2h-1.2zM445.48 282.48h1.2v1.2h-1.2zM489.92 276.25h1.2v1.2h-1.2zM497.16 271h1.2v1.2h-1.2zM455.67 270.36h1.2v1.2h-1.2zM483.3 273.24h1.2v1.2h-1.2zM467.88 286.41h1.2v1.2h-1.2zM490.64 282.88h1.2v1.2h-1.2zM487.83 282.98h1.2v1.2h-1.2zM488.6 275.91h1.2v1.2h-1.2zM480.46 273.66h1.2v1.2h-1.2zM496.01 283.79h1.2v1.2h-1.2zM463.34 264.14h1.2v1.2h-1.2zM486.9 268.56h1.2v1.2h-1.2zM481.9 270.32h1.2v1.2h-1.2zM526.9 281.94h1.2v1.2h-1.2zM510.05 277.03h1.2v1.2h-1.2zM498.35 274.87h1.2v1.2h-1.2zM442.52 289.57h1.2v1.2h-1.2zM512.53 264.84h1.2v1.2h-1.2zM479.88 267.07h1.2v1.2h-1.2zM425.12 294.02h1.2v1.2h-1.2zM460.07 284.86h1.2v1.2h-1.2zM424.3 281.25h1.2v1.2h-1.2zM467.91 280.23h1.2v1.2h-1.2zM502.29 258.62h1.2v1.2h-1.2zM460.78 282.63h1.2v1.2h-1.2zM458.65 277.24h1.2v1.2h-1.2zM458.97 269.73h1.2v1.2h-1.2zM500.3 286.07h1.2v1.2h-1.2zM419.08 289.56h1.2v1.2h-1.2zM493.42 276.91h1.2v1.2h-1.2zM457.65 292.58h1.2v1.2h-1.2zM450.68 294.69h1.2v1.2h-1.2zM484.65 286.35h1.2v1.2h-1.2zM463.79 282.96h1.2v1.2h-1.2zM457.64 295.95h1.2v1.2h-1.2zM493.73 279.96h1.2v1.2h-1.2zM474.59 290.07h1.2v1.2h-1.2zM455.89 277.01h1.2v1.2h-1.2zM454.93 269.3h1.2v1.2h-1.2zM484.78 268.11h1.2v1.2h-1.2zM445.01 295.06h1.2v1.2h-1.2zM516.36 281.86h1.2v1.2h-1.2zM480.18 284.82h1.2v1.2h-1.2zM436.66 285.02h1.2v1.2h-1.2zM460.81 279.48h1.2v1.2h-1.2zM441.4 290.29h1.2v1.2h-1.2zM479.98 279.14h1.2v1.2h-1.2zM476.8 269.63h1.2v1.2h-1.2zM506.92 270.28h1.2v1.2h-1.2zM458.89 285.88h1.2v1.2h-1.2zM476.62 290.55h1.2v1.2h-1.2zM436.3 300.77h1.2v1.2h-1.2zM477.29 275.2h1.2v1.2h-1.2zM501.17 273.24h1.2v1.2h-1.2zM481.58 273.6h1.2v1.2h-1.2zM486.26 277.95h1.2v1.2h-1.2zM443.39 285.78h1.2v1.2h-1.2zM442.27 287.4h1.2v1.2h-1.2zM471.26 279.06h1.2v1.2h-1.2zM503.32 264.88h1.2v1.2h-1.2zM419.3 295.48h1.2v1.2h-1.2zM430.25 280.02h1.2v1.2h-1.2zM489.38 286.25h1.2v1.2h-1.2zM452.79 272.61h1.2v1.2h-1.2zM451.42 276.26h1.2v1.2h-1.2zM445 280.77h1.2v1.2h-1.2zM473.62 274.74h1.2v1.2h-1.2zM449.01 277.62h1.2v1.2h-1.2zM444.35 268.11h1.2v1.2h-1.2zM486.45 277.55h1.2v1.2h-1.2zM452.52 289.49h1.2v1.2h-1.2zM458.95 271.83h1.2v1.2h-1.2zM423.18 284.11h1.2v1.2h-1.2zM451.77 277.99h1.2v1.2h-1.2zM481.16 283.42h1.2v1.2h-1.2zM431.41 280.28h1.2v1.2h-1.2zM482.85 270.11h1.2v1.2h-1.2zM478.48 278.41h1.2v1.2h-1.2zM459.26 290.73h1.2v1.2h-1.2zM442.12 279.75h1.2v1.2h-1.2zM437.86 283.74h1.2v1.2h-1.2zM495.05 276.65h1.2v1.2h-1.2zM454.53 284.31h1.2v1.2h-1.2zM411.8 289.05h1.2v1.2h-1.2zM479.05 268.98h1.2v1.2h-1.2zM424.02 284.69h1.2v1.2h-1.2zM471.81 272.12h1.2v1.2h-1.2zM495.64 273.65h1.2v1.2h-1.2zM517.76 276.95h1.2v1.2h-1.2zM472.31 274.84h1.2v1.2h-1.2zM487.98 276.88h1.2v1.2h-1.2zM441.73 281.07h1.2v1.2h-1.2zM440.57 291.96h1.2v1.2h-1.2zM451.65 280.01h1.2v1.2h-1.2zM503.2 273.53h1.2v1.2h-1.2zM444.01 285.75h1.2v1.2h-1.2zM439.66 285.72h1.2v1.2h-1.2zM472.4 279.62h1.2v1.2h-1.2zM494.46 275.2h1.2v1.2h-1.2zM467.82 278.25h1.2v1.2h-1.2zM474.8 282.18h1.2v1.2h-1.2zM450.54 295.98h1.2v1.2h-1.2zM465.65 286.49h1.2v1.2h-1.2zM443.3 283.93h1.2v1.2h-1.2zM447.24 286.99h1.2v1.2h-1.2zM454.58 278.94h1.2v1.2h-1.2zM516.7 261.13h1.2v1.2h-1.2zM487.36 286.33h1.2v1.2h-1.2zM428.59 292.17h1.2v1.2h-1.2zM495.46 268.76h1.2v1.2h-1.2zM479.95 281.76h1.2v1.2h-1.2zM452.32 278.26h1.2v1.2h-1.2zM489.96 275.45h1.2v1.2h-1.2zM448.6 276.83h1.2v1.2h-1.2zM481.19 270.66h1.2v1.2h-1.2zM499.11 278.29h1.2v1.2h-1.2zM436.27 286.64h1.2v1.2h-1.2zM491.2 282.14h1.2v1.2h-1.2zM447.67 284.65h1.2v1.2h-1.2zM461.62 271.55h1.2v1.2h-1.2zM423.32 300.4h1.2v1.2h-1.2zM442.93 276.13h1.2v1.2h-1.2zM438.9 294.34h1.2v1.2h-1.2zM462.55 286.23h1.2v1.2h-1.2zM427.77 276.35h1.2v1.2h-1.2zM475.47 288.21h1.2v1.2h-1.2zM491.26 280.78h1.2v1.2h-1.2zM465.9 264.4h1.2v1.2h-1.2zM480.83 283.98h1.2v1.2h-1.2zM453.11 286.28h1.2v1.2h-1.2zM472.2 267.2h1.2v1.2h-1.2zM508.14 279.61h1.2v1.2h-1.2zM461.79 274.29h1.2v1.2h-1.2zM424.68 290.15h1.2v1.2h-1.2zM437.57 283.91h1.2v1.2h-1.2zM490.11 274.61h1.2v1.2h-1.2zM483.43 288.96h1.2v1.2h-1.2zM464.58 271.4h1.2v1.2h-1.2zM496.58 274.21h1.2v1.2h-1.2zM445.22 278.06h1.2v1.2h-1.2zM516.55 262.4h1.2v1.2h-1.2zM473.37 274.28h1.2v1.2h-1.2zM465.24 278.42h1.2v1.2h-1.2zM487.22 287.77h1.2v1.2h-1.2zM455.92 279.9h1.2v1.2h-1.2zM465.41 269.73h1.2v1.2h-1.2zM440.41 287.86h1.2v1.2h-1.2zM499.86 270.62h1.2v1.2h-1.2zM450.67 275.95h1.2v1.2h-1.2zM524.5 273.25h1.2v1.2h-1.2zM487.16 271.17h1.2v1.2h-1.2zM465.28 288.85h1.2v1.2h-1.2zM425.48 297.33h1.2v1.2h-1.2zM462.24 276.34h1.2v1.2h-1.2zM479.21 279.88h1.2v1.2h-1.2zM503.28 262.52h1.2v1.2h-1.2zM459.08 267.49h1.2v1.2h-1.2zM443 290.02h1.2v1.2h-1.2zM460.27 284.61h1.2v1.2h-1.2zM474.96 290.21h1.2v1.2h-1.2zM477.01 273.14h1.2v1.2h-1.2zM433.58 288.61h1.2v1.2h-1.2zM451.86 289.15h1.2v1.2h-1.2zM488.03 281.03h1.2v1.2h-1.2zM477.87 288.19h1.2v1.2h-1.2zM438.89 288.67h1.2v1.2h-1.2zM421.31 284.53h1.2v1.2h-1.2zM482.03 265.89h1.2v1.2h-1.2zM483.88 285.81h1.2v1.2h-1.2zM510.46 268.64h1.2v1.2h-1.2zM443.48 284.83h1.2v1.2h-1.2zM487.66 266.93h1.2v1.2h-1.2zM506.44 276.46h1.2v1.2h-1.2zM462.39 284.84h1.2v1.2h-1.2zM461.63 294.24h1.2v1.2h-1.2zM446.45 288.32h1.2v1.2h-1.2zM512.74 273.47h1.2v1.2h-1.2zM506.07 287.47h1.2v1.2h-1.2zM451.47 269.83h1.2v1.2h-1.2zM491.35 269.52h1.2v1.2h-1.2zM472.28 274.91h1.2v1.2h-1.2zM466.85 281.88h1.2v1.2h-1.2zM466.25 275.99h1.2v1.2h-1.2zM478.63 271.23h1.2v1.2h-1.2zM517.1 266.43h1.2v1.2h-1.2zM454.74 299.33h1.2v1.2h-1.2zM459.8 292.19h1.2v1.2h-1.2zM450.44 276.14h1.2v1.2h-1.2zM498.99 285.87h1.2v1.2h-1.2zM431.31 282.72h1.2v1.2h-1.2zM504.73 279.27h1.2v1.2h-1.2zM452.86 271.49h1.2v1.2h-1.2zM451.02 276.38h1.2v1.2h-1.2zM471.79 288.87h1.2v1.2h-1.2zM489.82 278.52h1.2v1.2h-1.2zM485.28 275.99h1.2v1.2h-1.2zM496.95 274.22h1.2v1.2h-1.2zM507.62 278.59h1.2v1.2h-1.2zM501.42 269.16h1.2v1.2h-1.2zM478.03 271.71h1.2v1.2h-1.2zM447.57 269.79h1.2v1.2h-1.2zM449.28 279.3h1.2v1.2h-1.2zM438.44 276.15h1.2v1.2h-1.2zM474.83 285.89h1.2v1.2h-1.2zM489.26 265.36h1.2v1.2h-1.2zM463.7 274.28h1.2v1.2h-1.2zM496.4 285.66h1.2v1.2h-1.2zM447.78 288.83h1.2v1.2h-1.2zM500.29 267.95h1.2v1.2h-1.2zM467.83 278.48h1.2v1.2h-1.2zM480.48 273.22h1.2v1.2h-1.2zM447.46 295.99h1.2v1.2h-1.2zM481.15 273.2h1.2v1.2h-1.2zM452.53 289.73h1.2v1.2h-1.2zM463.77 291.93h1.2v1.2h-1.2zM491.13 267.49h1.2v1.2h-1.2zM446.75 289.41h1.2v1.2h-1.2zM492.49 267.45h1.2v1.2h-1.2zM492.38 282.28h1.2v1.2h-1.2zM467.21 283.2h1.2v1.2h-1.2zM505.08 283.28h1.2v1.2h-1.2zM478.61 278.58h1.2v1.2h-1.2zM496.39 290.13h1.2v1.2h-1.2z" fill="#222"/>
<line x1="408.3" y1="293" x2="536.9" y2="267.2" stroke="#5080ea" stroke-width="1.05"/>
<path d="M401.4 217.1V310.8H544.2" fill="none" stroke="#9a9a9a" stroke-width="0.6"/>
<line x1="400.2" y1="219.05" x2="401.4" y2="219.05" stroke="#9a9a9a" stroke-width="0.5"/>
<text x="397.9" y="220.35" class="tk" text-anchor="end">30</text>
<line x1="400.2" y1="240.4" x2="401.4" y2="240.4" stroke="#9a9a9a" stroke-width="0.5"/>
<text x="397.9" y="241.7" class="tk" text-anchor="end">20</text>
<line x1="400.2" y1="261.75" x2="401.4" y2="261.75" stroke="#9a9a9a" stroke-width="0.5"/>
<text x="397.9" y="263.05" class="tk" text-anchor="end">10</text>
<line x1="400.2" y1="283.1" x2="401.4" y2="283.1" stroke="#9a9a9a" stroke-width="0.5"/>
<text x="397.9" y="284.4" class="tk" text-anchor="end">0</text>
<line x1="400.2" y1="304.45" x2="401.4" y2="304.45" stroke="#9a9a9a" stroke-width="0.5"/>
<text x="397.9" y="305.75" class="tk" text-anchor="end">-10</text>
<line x1="404.4" y1="310.8" x2="404.4" y2="312" stroke="#9a9a9a" stroke-width="0.5"/>
<text x="404.4" y="316.9" class="tk" text-anchor="middle">140</text>
<line x1="451.95" y1="310.8" x2="451.95" y2="312" stroke="#9a9a9a" stroke-width="0.5"/>
<text x="451.95" y="316.9" class="tk" text-anchor="middle">150</text>
<line x1="499.5" y1="310.8" x2="499.5" y2="312" stroke="#9a9a9a" stroke-width="0.5"/>
<text x="499.5" y="316.9" class="tk" text-anchor="middle">160</text>
<text x="472.8" y="213" class="tt" text-anchor="middle">Bland-Altman plot</text>
<text x="472.8" y="323" class="al" text-anchor="middle">Means</text>
<text transform="translate(392.5 263.95) rotate(-90)" class="al" text-anchor="middle">Differences</text>
<text x="115.7" y="171.2" class="st" text-anchor="middle" textLength="34.18" lengthAdjust="spacingAndGlyphs">N = 394</text>
<text x="115.7" y="185.3" class="st" text-anchor="middle" textLength="62.29" lengthAdjust="spacingAndGlyphs">MD = −0.0752</text>
<text x="115.7" y="199.4" class="st" text-anchor="middle" textLength="68.27" lengthAdjust="spacingAndGlyphs">−7.3136, 7.1632</text>
<text x="290.3" y="171.2" class="st" text-anchor="middle" textLength="34.18" lengthAdjust="spacingAndGlyphs">N = 181</text>
<text x="290.3" y="185.3" class="st" text-anchor="middle" textLength="51.22" lengthAdjust="spacingAndGlyphs">MD = 0.987</text>
<text x="290.3" y="199.4" class="st" text-anchor="middle" textLength="63.07" lengthAdjust="spacingAndGlyphs">−8.080, 10.035</text>
<text x="465.5" y="171.2" class="st" text-anchor="middle" textLength="34.18" lengthAdjust="spacingAndGlyphs">N = 213</text>
<text x="465.5" y="185.3" class="st" text-anchor="middle" textLength="46.02" lengthAdjust="spacingAndGlyphs">MD = 2.26</text>
<text x="465.5" y="199.4" class="st" text-anchor="middle" textLength="47.47" lengthAdjust="spacingAndGlyphs">−4.97, 9.49</text>
<text x="115.9" y="341.2" class="st" text-anchor="middle" textLength="34.18" lengthAdjust="spacingAndGlyphs">N = 804</text>
<text x="115.9" y="355.3" class="st" text-anchor="middle" textLength="46.02" lengthAdjust="spacingAndGlyphs">MD = 2.41</text>
<text x="115.9" y="369.4" class="st" text-anchor="middle" textLength="52.67" lengthAdjust="spacingAndGlyphs">−6.17, 10.98</text>
<text x="290.3" y="341.2" class="st" text-anchor="middle" textLength="34.18" lengthAdjust="spacingAndGlyphs">N = 418</text>
<text x="290.3" y="355.3" class="st" text-anchor="middle" textLength="46.02" lengthAdjust="spacingAndGlyphs">MD = 3.37</text>
<text x="290.3" y="369.4" class="st" text-anchor="middle" textLength="52.67" lengthAdjust="spacingAndGlyphs">−5.28, 12.01</text>
<text x="465.4" y="341.2" class="st" text-anchor="middle" textLength="34.18" lengthAdjust="spacingAndGlyphs">N = 386</text>
<text x="465.4" y="355.3" class="st" text-anchor="middle" textLength="46.02" lengthAdjust="spacingAndGlyphs">MD = 1.37</text>
<text x="465.4" y="369.4" class="st" text-anchor="middle" textLength="47.47" lengthAdjust="spacingAndGlyphs">−6.65, 9.39</text>
</svg>
</body></html>
